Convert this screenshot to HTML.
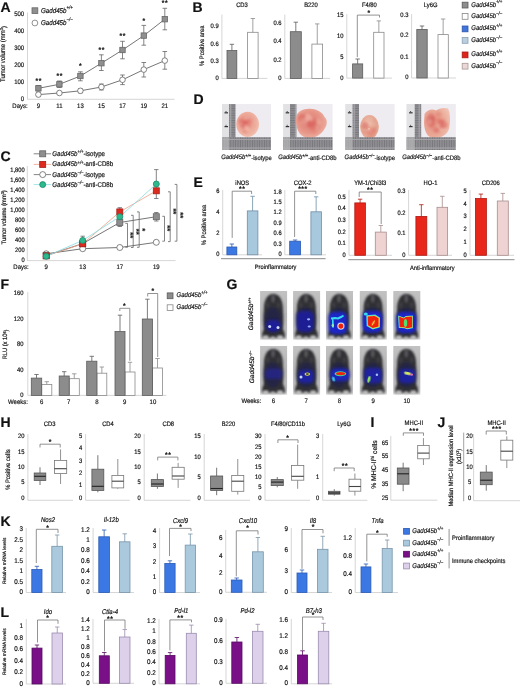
<!DOCTYPE html><html><head><meta charset="utf-8"><style>html,body{margin:0;padding:0;background:#fff;}svg{display:block;filter:blur(0.3px);}text{font-family:'Liberation Sans', Arial, sans-serif;fill:#111;stroke:#111;stroke-width:0.18px;text-rendering:geometricPrecision;}</style></head><body>
<svg width="520" height="687" viewBox="0 0 520 687">
<rect width="520" height="687" fill="#fff"/>
<text x="0.50" y="6.50" font-size="14" text-anchor="start" dominant-baseline="central" font-weight="bold" fill="#000" stroke="#000" stroke-width="0.55">A</text>
<line x1="27.50" y1="12.50" x2="27.50" y2="99.30" stroke="#c4c4c4" stroke-width="0.7"/>
<line x1="27.50" y1="99.30" x2="174.60" y2="99.30" stroke="#c4c4c4" stroke-width="0.7"/>
<text x="24.20" y="99.30" font-size="6.6" text-anchor="end" dominant-baseline="central" transform="translate(24.20 99.30) scale(0.91 1) translate(-24.20 -99.30)">0</text>
<text x="24.20" y="82.40" font-size="6.6" text-anchor="end" dominant-baseline="central" transform="translate(24.20 82.40) scale(0.91 1) translate(-24.20 -82.40)">100</text>
<text x="24.20" y="65.50" font-size="6.6" text-anchor="end" dominant-baseline="central" transform="translate(24.20 65.50) scale(0.91 1) translate(-24.20 -65.50)">200</text>
<text x="24.20" y="48.60" font-size="6.6" text-anchor="end" dominant-baseline="central" transform="translate(24.20 48.60) scale(0.91 1) translate(-24.20 -48.60)">300</text>
<text x="24.20" y="31.70" font-size="6.6" text-anchor="end" dominant-baseline="central" transform="translate(24.20 31.70) scale(0.91 1) translate(-24.20 -31.70)">400</text>
<text x="24.20" y="14.80" font-size="6.6" text-anchor="end" dominant-baseline="central" transform="translate(24.20 14.80) scale(0.91 1) translate(-24.20 -14.80)">500</text>
<text x="3.60" y="54.00" font-size="6.6" text-anchor="middle" dominant-baseline="central" transform="rotate(-90 3.60 54.00) translate(3.60 54.00) scale(0.91 1) translate(-3.60 -54.00)">Tumor volume (mm<tspan font-size="4.2" dy="-2.2">3</tspan><tspan dy="2.2">)</tspan></text>
<text x="12.30" y="106.40" font-size="6.6" text-anchor="start" dominant-baseline="central" transform="translate(12.30 106.40) scale(0.91 1) translate(-12.30 -106.40)">Days:</text>
<text x="38.40" y="106.40" font-size="6.6" text-anchor="middle" dominant-baseline="central" transform="translate(38.40 106.40) scale(0.91 1) translate(-38.40 -106.40)">9</text>
<text x="59.40" y="106.40" font-size="6.6" text-anchor="middle" dominant-baseline="central" transform="translate(59.40 106.40) scale(0.91 1) translate(-59.40 -106.40)">11</text>
<text x="80.40" y="106.40" font-size="6.6" text-anchor="middle" dominant-baseline="central" transform="translate(80.40 106.40) scale(0.91 1) translate(-80.40 -106.40)">13</text>
<text x="101.40" y="106.40" font-size="6.6" text-anchor="middle" dominant-baseline="central" transform="translate(101.40 106.40) scale(0.91 1) translate(-101.40 -106.40)">15</text>
<text x="122.50" y="106.40" font-size="6.6" text-anchor="middle" dominant-baseline="central" transform="translate(122.50 106.40) scale(0.91 1) translate(-122.50 -106.40)">17</text>
<text x="143.80" y="106.40" font-size="6.6" text-anchor="middle" dominant-baseline="central" transform="translate(143.80 106.40) scale(0.91 1) translate(-143.80 -106.40)">19</text>
<text x="164.80" y="106.40" font-size="6.6" text-anchor="middle" dominant-baseline="central" transform="translate(164.80 106.40) scale(0.91 1) translate(-164.80 -106.40)">21</text>
<path d="M38.40,88.30 L59.40,84.30 L80.40,76.00 L101.40,63.20 L122.50,50.00 L143.80,35.60 L164.80,19.20" stroke="#666" stroke-width="0.9" fill="none"/>
<path d="M38.40,94.60 L59.40,93.00 L80.40,90.80 L101.40,87.00 L122.50,79.80 L143.80,69.60 L164.80,60.60" stroke="#666" stroke-width="0.9" fill="none"/>
<line x1="38.40" y1="93.00" x2="38.40" y2="96.00" stroke="#666" stroke-width="0.8"/>
<line x1="36.10" y1="93.00" x2="40.70" y2="93.00" stroke="#666" stroke-width="0.8"/>
<line x1="36.10" y1="96.00" x2="40.70" y2="96.00" stroke="#666" stroke-width="0.8"/>
<line x1="59.40" y1="91.50" x2="59.40" y2="94.50" stroke="#666" stroke-width="0.8"/>
<line x1="57.10" y1="91.50" x2="61.70" y2="91.50" stroke="#666" stroke-width="0.8"/>
<line x1="57.10" y1="94.50" x2="61.70" y2="94.50" stroke="#666" stroke-width="0.8"/>
<line x1="80.40" y1="88.80" x2="80.40" y2="92.80" stroke="#666" stroke-width="0.8"/>
<line x1="78.10" y1="88.80" x2="82.70" y2="88.80" stroke="#666" stroke-width="0.8"/>
<line x1="78.10" y1="92.80" x2="82.70" y2="92.80" stroke="#666" stroke-width="0.8"/>
<line x1="101.40" y1="84.00" x2="101.40" y2="90.00" stroke="#666" stroke-width="0.8"/>
<line x1="99.10" y1="84.00" x2="103.70" y2="84.00" stroke="#666" stroke-width="0.8"/>
<line x1="99.10" y1="90.00" x2="103.70" y2="90.00" stroke="#666" stroke-width="0.8"/>
<line x1="122.50" y1="75.00" x2="122.50" y2="84.60" stroke="#666" stroke-width="0.8"/>
<line x1="120.20" y1="75.00" x2="124.80" y2="75.00" stroke="#666" stroke-width="0.8"/>
<line x1="120.20" y1="84.60" x2="124.80" y2="84.60" stroke="#666" stroke-width="0.8"/>
<line x1="143.80" y1="62.50" x2="143.80" y2="77.00" stroke="#666" stroke-width="0.8"/>
<line x1="141.50" y1="62.50" x2="146.10" y2="62.50" stroke="#666" stroke-width="0.8"/>
<line x1="141.50" y1="77.00" x2="146.10" y2="77.00" stroke="#666" stroke-width="0.8"/>
<line x1="164.80" y1="51.50" x2="164.80" y2="69.20" stroke="#666" stroke-width="0.8"/>
<line x1="162.50" y1="51.50" x2="167.10" y2="51.50" stroke="#666" stroke-width="0.8"/>
<line x1="162.50" y1="69.20" x2="167.10" y2="69.20" stroke="#666" stroke-width="0.8"/>
<line x1="38.40" y1="85.50" x2="38.40" y2="91.00" stroke="#666" stroke-width="0.8"/>
<line x1="36.10" y1="85.50" x2="40.70" y2="85.50" stroke="#666" stroke-width="0.8"/>
<line x1="36.10" y1="91.00" x2="40.70" y2="91.00" stroke="#666" stroke-width="0.8"/>
<line x1="59.40" y1="81.00" x2="59.40" y2="87.50" stroke="#666" stroke-width="0.8"/>
<line x1="57.10" y1="81.00" x2="61.70" y2="81.00" stroke="#666" stroke-width="0.8"/>
<line x1="57.10" y1="87.50" x2="61.70" y2="87.50" stroke="#666" stroke-width="0.8"/>
<line x1="80.40" y1="71.80" x2="80.40" y2="80.80" stroke="#666" stroke-width="0.8"/>
<line x1="78.10" y1="71.80" x2="82.70" y2="71.80" stroke="#666" stroke-width="0.8"/>
<line x1="78.10" y1="80.80" x2="82.70" y2="80.80" stroke="#666" stroke-width="0.8"/>
<line x1="101.40" y1="54.80" x2="101.40" y2="70.50" stroke="#666" stroke-width="0.8"/>
<line x1="99.10" y1="54.80" x2="103.70" y2="54.80" stroke="#666" stroke-width="0.8"/>
<line x1="99.10" y1="70.50" x2="103.70" y2="70.50" stroke="#666" stroke-width="0.8"/>
<line x1="122.50" y1="41.30" x2="122.50" y2="58.80" stroke="#666" stroke-width="0.8"/>
<line x1="120.20" y1="41.30" x2="124.80" y2="41.30" stroke="#666" stroke-width="0.8"/>
<line x1="120.20" y1="58.80" x2="124.80" y2="58.80" stroke="#666" stroke-width="0.8"/>
<line x1="143.80" y1="25.40" x2="143.80" y2="45.20" stroke="#666" stroke-width="0.8"/>
<line x1="141.50" y1="25.40" x2="146.10" y2="25.40" stroke="#666" stroke-width="0.8"/>
<line x1="141.50" y1="45.20" x2="146.10" y2="45.20" stroke="#666" stroke-width="0.8"/>
<line x1="164.80" y1="8.30" x2="164.80" y2="29.80" stroke="#666" stroke-width="0.8"/>
<line x1="162.50" y1="8.30" x2="167.10" y2="8.30" stroke="#666" stroke-width="0.8"/>
<line x1="162.50" y1="29.80" x2="167.10" y2="29.80" stroke="#666" stroke-width="0.8"/>
<circle cx="38.40" cy="94.60" r="2.8" fill="#fff" stroke="#666" stroke-width="0.8"/>
<circle cx="59.40" cy="93.00" r="2.8" fill="#fff" stroke="#666" stroke-width="0.8"/>
<circle cx="80.40" cy="90.80" r="2.8" fill="#fff" stroke="#666" stroke-width="0.8"/>
<circle cx="101.40" cy="87.00" r="2.8" fill="#fff" stroke="#666" stroke-width="0.8"/>
<circle cx="122.50" cy="79.80" r="2.8" fill="#fff" stroke="#666" stroke-width="0.8"/>
<circle cx="143.80" cy="69.60" r="2.8" fill="#fff" stroke="#666" stroke-width="0.8"/>
<circle cx="164.80" cy="60.60" r="2.8" fill="#fff" stroke="#666" stroke-width="0.8"/>
<rect x="35.70" y="85.60" width="5.40" height="5.40" fill="#8f8f8f" stroke="#666" stroke-width="0.8"/>
<rect x="56.70" y="81.60" width="5.40" height="5.40" fill="#8f8f8f" stroke="#666" stroke-width="0.8"/>
<rect x="77.70" y="73.30" width="5.40" height="5.40" fill="#8f8f8f" stroke="#666" stroke-width="0.8"/>
<rect x="98.70" y="60.50" width="5.40" height="5.40" fill="#8f8f8f" stroke="#666" stroke-width="0.8"/>
<rect x="119.80" y="47.30" width="5.40" height="5.40" fill="#8f8f8f" stroke="#666" stroke-width="0.8"/>
<rect x="141.10" y="32.90" width="5.40" height="5.40" fill="#8f8f8f" stroke="#666" stroke-width="0.8"/>
<rect x="162.10" y="16.50" width="5.40" height="5.40" fill="#8f8f8f" stroke="#666" stroke-width="0.8"/>
<text x="38.70" y="81.20" font-size="6.8" text-anchor="middle" dominant-baseline="central" font-weight="bold" letter-spacing="0.6">**</text>
<text x="59.70" y="76.20" font-size="6.8" text-anchor="middle" dominant-baseline="central" font-weight="bold" letter-spacing="0.6">**</text>
<text x="80.70" y="66.20" font-size="6.8" text-anchor="middle" dominant-baseline="central" font-weight="bold" letter-spacing="0.6">*</text>
<text x="101.70" y="50.00" font-size="6.8" text-anchor="middle" dominant-baseline="central" font-weight="bold" letter-spacing="0.6">**</text>
<text x="122.80" y="36.20" font-size="6.8" text-anchor="middle" dominant-baseline="central" font-weight="bold" letter-spacing="0.6">**</text>
<text x="144.10" y="21.00" font-size="6.8" text-anchor="middle" dominant-baseline="central" font-weight="bold" letter-spacing="0.6">*</text>
<text x="165.10" y="3.80" font-size="6.8" text-anchor="middle" dominant-baseline="central" font-weight="bold" letter-spacing="0.6">**</text>
<rect x="32.00" y="7.80" width="5.80" height="5.70" fill="#8f8f8f" stroke="#666" stroke-width="0.8"/>
<circle cx="34.9" cy="23" r="2.9" fill="#fff" stroke="#777" stroke-width="0.8"/>
<text x="41.00" y="10.60" font-size="7.14" font-style="italic" dominant-baseline="central" text-anchor="start" transform="translate(41.00 10.60) scale(0.87 1) translate(-41.00 -10.60)">Gadd45b<tspan font-size="5.14" dy="-2.86">+/+</tspan></text>
<text x="41.00" y="23.00" font-size="7.14" font-style="italic" dominant-baseline="central" text-anchor="start" transform="translate(41.00 23.00) scale(0.87 1) translate(-41.00 -23.00)">Gadd45b<tspan font-size="5.14" dy="-2.86">&#8722;/&#8722;</tspan></text>
<text x="192.50" y="7.00" font-size="14" text-anchor="start" dominant-baseline="central" font-weight="bold" fill="#000" stroke="#000" stroke-width="0.55">B</text>
<text x="202.20" y="45.80" font-size="6.4" text-anchor="middle" dominant-baseline="central" transform="rotate(-90 202.20 45.80) translate(202.20 45.80) scale(0.91 1) translate(-202.20 -45.80)">% Positive area</text>
<text x="242.00" y="5.80" font-size="6.4" text-anchor="middle" dominant-baseline="central" transform="translate(242.00 5.80) scale(0.91 1) translate(-242.00 -5.80)">CD3</text>
<line x1="221.90" y1="14.60" x2="221.90" y2="78.40" stroke="#c4c4c4" stroke-width="0.7"/>
<line x1="221.90" y1="78.40" x2="267.30" y2="78.40" stroke="#c4c4c4" stroke-width="0.7"/>
<text x="218.70" y="26.90" font-size="6.4" text-anchor="end" dominant-baseline="central" transform="translate(218.70 26.90) scale(0.91 1) translate(-218.70 -26.90)">0.9</text>
<text x="218.70" y="44.20" font-size="6.4" text-anchor="end" dominant-baseline="central" transform="translate(218.70 44.20) scale(0.91 1) translate(-218.70 -44.20)">0.6</text>
<text x="218.70" y="61.20" font-size="6.4" text-anchor="end" dominant-baseline="central" transform="translate(218.70 61.20) scale(0.91 1) translate(-218.70 -61.20)">0.3</text>
<text x="218.70" y="78.20" font-size="6.4" text-anchor="end" dominant-baseline="central" transform="translate(218.70 78.20) scale(0.91 1) translate(-218.70 -78.20)">0</text>
<rect x="227.00" y="50.50" width="9.80" height="27.90" fill="#8c8c8c" stroke="#5c5c5c" stroke-width="0.8"/>
<line x1="231.90" y1="50.50" x2="231.90" y2="44.30" stroke="#5c5c5c" stroke-width="0.8"/>
<line x1="229.70" y1="44.30" x2="234.10" y2="44.30" stroke="#5c5c5c" stroke-width="0.8"/>
<rect x="247.60" y="32.30" width="10.50" height="46.10" fill="#fff" stroke="#8a8a8a" stroke-width="0.8"/>
<line x1="252.85" y1="32.30" x2="252.85" y2="18.50" stroke="#8a8a8a" stroke-width="0.8"/>
<line x1="250.65" y1="18.50" x2="255.05" y2="18.50" stroke="#8a8a8a" stroke-width="0.8"/>
<text x="311.00" y="5.80" font-size="6.4" text-anchor="middle" dominant-baseline="central" transform="translate(311.00 5.80) scale(0.91 1) translate(-311.00 -5.80)">B220</text>
<line x1="284.80" y1="14.60" x2="284.80" y2="78.40" stroke="#c4c4c4" stroke-width="0.7"/>
<line x1="284.80" y1="78.40" x2="330.00" y2="78.40" stroke="#c4c4c4" stroke-width="0.7"/>
<text x="281.60" y="23.90" font-size="6.4" text-anchor="end" dominant-baseline="central" transform="translate(281.60 23.90) scale(0.91 1) translate(-281.60 -23.90)">0.6</text>
<text x="281.60" y="41.80" font-size="6.4" text-anchor="end" dominant-baseline="central" transform="translate(281.60 41.80) scale(0.91 1) translate(-281.60 -41.80)">0.4</text>
<text x="281.60" y="60.50" font-size="6.4" text-anchor="end" dominant-baseline="central" transform="translate(281.60 60.50) scale(0.91 1) translate(-281.60 -60.50)">0.2</text>
<text x="281.60" y="78.20" font-size="6.4" text-anchor="end" dominant-baseline="central" transform="translate(281.60 78.20) scale(0.91 1) translate(-281.60 -78.20)">0</text>
<rect x="290.30" y="31.70" width="11.00" height="46.70" fill="#8c8c8c" stroke="#5c5c5c" stroke-width="0.8"/>
<line x1="295.80" y1="31.70" x2="295.80" y2="22.20" stroke="#5c5c5c" stroke-width="0.8"/>
<line x1="293.60" y1="22.20" x2="298.00" y2="22.20" stroke="#5c5c5c" stroke-width="0.8"/>
<rect x="311.90" y="44.10" width="10.70" height="34.30" fill="#fff" stroke="#8a8a8a" stroke-width="0.8"/>
<line x1="317.25" y1="44.10" x2="317.25" y2="23.90" stroke="#8a8a8a" stroke-width="0.8"/>
<line x1="315.05" y1="23.90" x2="319.45" y2="23.90" stroke="#8a8a8a" stroke-width="0.8"/>
<text x="369.40" y="5.70" font-size="6.4" text-anchor="middle" dominant-baseline="central" transform="translate(369.40 5.70) scale(0.91 1) translate(-369.40 -5.70)">F4/80</text>
<line x1="346.80" y1="14.10" x2="346.80" y2="78.10" stroke="#c4c4c4" stroke-width="0.7"/>
<line x1="346.80" y1="78.10" x2="392.00" y2="78.10" stroke="#c4c4c4" stroke-width="0.7"/>
<text x="343.60" y="15.50" font-size="6.4" text-anchor="end" dominant-baseline="central" transform="translate(343.60 15.50) scale(0.91 1) translate(-343.60 -15.50)">15</text>
<text x="343.60" y="36.30" font-size="6.4" text-anchor="end" dominant-baseline="central" transform="translate(343.60 36.30) scale(0.91 1) translate(-343.60 -36.30)">10</text>
<text x="343.60" y="57.60" font-size="6.4" text-anchor="end" dominant-baseline="central" transform="translate(343.60 57.60) scale(0.91 1) translate(-343.60 -57.60)">5</text>
<text x="343.60" y="78.00" font-size="6.4" text-anchor="end" dominant-baseline="central" transform="translate(343.60 78.00) scale(0.91 1) translate(-343.60 -78.00)">0</text>
<rect x="352.60" y="63.90" width="10.10" height="14.20" fill="#8c8c8c" stroke="#5c5c5c" stroke-width="0.8"/>
<line x1="357.65" y1="63.90" x2="357.65" y2="59.00" stroke="#5c5c5c" stroke-width="0.8"/>
<line x1="355.45" y1="59.00" x2="359.85" y2="59.00" stroke="#5c5c5c" stroke-width="0.8"/>
<rect x="373.70" y="32.30" width="10.30" height="45.80" fill="#fff" stroke="#8a8a8a" stroke-width="0.8"/>
<line x1="378.85" y1="32.30" x2="378.85" y2="20.90" stroke="#8a8a8a" stroke-width="0.8"/>
<line x1="376.65" y1="20.90" x2="381.05" y2="20.90" stroke="#8a8a8a" stroke-width="0.8"/>
<path d="M357.30,57.20 V15.10 H379.50 V17.50" stroke="#777" stroke-width="0.8" fill="none"/>
<text x="369.00" y="13.50" font-size="6.8" text-anchor="middle" dominant-baseline="central" font-weight="bold" letter-spacing="0.6">*</text>
<text x="430.70" y="5.50" font-size="6.4" text-anchor="middle" dominant-baseline="central" transform="translate(430.70 5.50) scale(0.91 1) translate(-430.70 -5.50)">Ly6G</text>
<line x1="411.60" y1="14.10" x2="411.60" y2="78.00" stroke="#c4c4c4" stroke-width="0.7"/>
<line x1="411.60" y1="78.00" x2="456.00" y2="78.00" stroke="#c4c4c4" stroke-width="0.7"/>
<text x="408.40" y="15.60" font-size="6.4" text-anchor="end" dominant-baseline="central" transform="translate(408.40 15.60) scale(0.91 1) translate(-408.40 -15.60)">0.3</text>
<text x="408.40" y="35.60" font-size="6.4" text-anchor="end" dominant-baseline="central" transform="translate(408.40 35.60) scale(0.91 1) translate(-408.40 -35.60)">0.2</text>
<text x="408.40" y="57.00" font-size="6.4" text-anchor="end" dominant-baseline="central" transform="translate(408.40 57.00) scale(0.91 1) translate(-408.40 -57.00)">0.1</text>
<text x="408.40" y="77.90" font-size="6.4" text-anchor="end" dominant-baseline="central" transform="translate(408.40 77.90) scale(0.91 1) translate(-408.40 -77.90)">0</text>
<rect x="416.80" y="29.40" width="10.40" height="48.60" fill="#8c8c8c" stroke="#5c5c5c" stroke-width="0.8"/>
<line x1="422.00" y1="29.40" x2="422.00" y2="26.00" stroke="#5c5c5c" stroke-width="0.8"/>
<line x1="419.80" y1="26.00" x2="424.20" y2="26.00" stroke="#5c5c5c" stroke-width="0.8"/>
<rect x="438.00" y="34.60" width="10.30" height="43.40" fill="#fff" stroke="#8a8a8a" stroke-width="0.8"/>
<line x1="443.15" y1="34.60" x2="443.15" y2="19.00" stroke="#8a8a8a" stroke-width="0.8"/>
<line x1="440.95" y1="19.00" x2="445.35" y2="19.00" stroke="#8a8a8a" stroke-width="0.8"/>
<rect x="462.20" y="2.20" width="5.80" height="5.80" fill="#8e8e8e" stroke="#5a5a5a" stroke-width="0.8"/>
<text x="471.30" y="5.10" font-size="6.93" font-style="italic" dominant-baseline="central" text-anchor="start" transform="translate(471.30 5.10) scale(0.87 1) translate(-471.30 -5.10)">Gadd45b<tspan font-size="4.99" dy="-2.77">+/+</tspan></text>
<rect x="462.20" y="13.50" width="5.80" height="5.80" fill="#fff" stroke="#888" stroke-width="0.8"/>
<text x="471.30" y="16.40" font-size="6.93" font-style="italic" dominant-baseline="central" text-anchor="start" transform="translate(471.30 16.40) scale(0.87 1) translate(-471.30 -16.40)">Gadd45b<tspan font-size="4.99" dy="-2.77">&#8722;/&#8722;</tspan></text>
<rect x="462.20" y="26.00" width="5.80" height="5.80" fill="#3f74dd" stroke="#2d55a8" stroke-width="0.8"/>
<text x="471.30" y="28.90" font-size="6.93" font-style="italic" dominant-baseline="central" text-anchor="start" transform="translate(471.30 28.90) scale(0.87 1) translate(-471.30 -28.90)">Gadd45b<tspan font-size="4.99" dy="-2.77">+/+</tspan></text>
<rect x="462.20" y="37.50" width="5.80" height="5.80" fill="#b9cfe0" stroke="#8aa0b4" stroke-width="0.8"/>
<text x="471.30" y="40.40" font-size="6.93" font-style="italic" dominant-baseline="central" text-anchor="start" transform="translate(471.30 40.40) scale(0.87 1) translate(-471.30 -40.40)">Gadd45b<tspan font-size="4.99" dy="-2.77">&#8722;/&#8722;</tspan></text>
<rect x="462.20" y="52.00" width="5.80" height="5.80" fill="#e0231b" stroke="#a81a14" stroke-width="0.8"/>
<text x="471.30" y="54.90" font-size="6.93" font-style="italic" dominant-baseline="central" text-anchor="start" transform="translate(471.30 54.90) scale(0.87 1) translate(-471.30 -54.90)">Gadd45b<tspan font-size="4.99" dy="-2.77">+/+</tspan></text>
<rect x="462.20" y="63.30" width="5.80" height="5.80" fill="#ecd6d6" stroke="#a89898" stroke-width="0.8"/>
<text x="471.30" y="66.20" font-size="6.93" font-style="italic" dominant-baseline="central" text-anchor="start" transform="translate(471.30 66.20) scale(0.87 1) translate(-471.30 -66.20)">Gadd45b<tspan font-size="4.99" dy="-2.77">&#8722;/&#8722;</tspan></text>
<text x="0.50" y="155.50" font-size="14" text-anchor="start" dominant-baseline="central" font-weight="bold" fill="#000" stroke="#000" stroke-width="0.55">C</text>
<line x1="27.30" y1="166.00" x2="27.30" y2="260.60" stroke="#c4c4c4" stroke-width="0.7"/>
<line x1="27.30" y1="260.60" x2="175.60" y2="260.60" stroke="#c4c4c4" stroke-width="0.7"/>
<text x="24.60" y="260.60" font-size="6.3" text-anchor="end" dominant-baseline="central" transform="translate(24.60 260.60) scale(0.91 1) translate(-24.60 -260.60)">0</text>
<text x="24.60" y="250.56" font-size="6.3" text-anchor="end" dominant-baseline="central" transform="translate(24.60 250.56) scale(0.91 1) translate(-24.60 -250.56)">200</text>
<text x="24.60" y="240.52" font-size="6.3" text-anchor="end" dominant-baseline="central" transform="translate(24.60 240.52) scale(0.91 1) translate(-24.60 -240.52)">400</text>
<text x="24.60" y="230.48" font-size="6.3" text-anchor="end" dominant-baseline="central" transform="translate(24.60 230.48) scale(0.91 1) translate(-24.60 -230.48)">600</text>
<text x="24.60" y="220.44" font-size="6.3" text-anchor="end" dominant-baseline="central" transform="translate(24.60 220.44) scale(0.91 1) translate(-24.60 -220.44)">800</text>
<text x="24.60" y="210.40" font-size="6.3" text-anchor="end" dominant-baseline="central" transform="translate(24.60 210.40) scale(0.91 1) translate(-24.60 -210.40)">1,000</text>
<text x="24.60" y="200.36" font-size="6.3" text-anchor="end" dominant-baseline="central" transform="translate(24.60 200.36) scale(0.91 1) translate(-24.60 -200.36)">1,200</text>
<text x="24.60" y="190.32" font-size="6.3" text-anchor="end" dominant-baseline="central" transform="translate(24.60 190.32) scale(0.91 1) translate(-24.60 -190.32)">1,400</text>
<text x="24.60" y="180.28" font-size="6.3" text-anchor="end" dominant-baseline="central" transform="translate(24.60 180.28) scale(0.91 1) translate(-24.60 -180.28)">1,600</text>
<text x="24.60" y="170.24" font-size="6.3" text-anchor="end" dominant-baseline="central" transform="translate(24.60 170.24) scale(0.91 1) translate(-24.60 -170.24)">1,800</text>
<text x="4.10" y="217.30" font-size="6.4" text-anchor="middle" dominant-baseline="central" transform="rotate(-90 4.10 217.30) translate(4.10 217.30) scale(0.91 1) translate(-4.10 -217.30)">Tumor volume (mm<tspan font-size="4.1" dy="-2.1">3</tspan><tspan dy="2.1">)</tspan></text>
<text x="13.30" y="267.60" font-size="6.6" text-anchor="start" dominant-baseline="central" transform="translate(13.30 267.60) scale(0.91 1) translate(-13.30 -267.60)">Days:</text>
<text x="46.20" y="267.60" font-size="6.6" text-anchor="middle" dominant-baseline="central" transform="translate(46.20 267.60) scale(0.91 1) translate(-46.20 -267.60)">9</text>
<text x="82.70" y="267.60" font-size="6.6" text-anchor="middle" dominant-baseline="central" transform="translate(82.70 267.60) scale(0.91 1) translate(-82.70 -267.60)">13</text>
<text x="119.80" y="267.60" font-size="6.6" text-anchor="middle" dominant-baseline="central" transform="translate(119.80 267.60) scale(0.91 1) translate(-119.80 -267.60)">17</text>
<text x="156.30" y="267.60" font-size="6.6" text-anchor="middle" dominant-baseline="central" transform="translate(156.30 267.60) scale(0.91 1) translate(-156.30 -267.60)">19</text>
<path d="M46.2,253.8 L82.7,248.7 L119.8,247.5 L156.3,242.3" stroke="#666" stroke-width="0.9" fill="none"/>
<path d="M46.2,255.6 L82.7,243.6 L119.8,222.5 L156.3,216.7" stroke="#666" stroke-width="0.9" fill="none"/>
<path d="M46.2,255.9 L82.7,243.8 L119.8,211.9 L156.3,190.8" stroke="#f0a088" stroke-width="0.8" fill="none"/>
<path d="M46.2,256.3 L82.7,240.4 L119.8,216.7 L156.3,184.0" stroke="#88dde0" stroke-width="0.8" fill="none"/>
<line x1="156.30" y1="169.60" x2="156.30" y2="198.50" stroke="#666" stroke-width="0.8"/>
<line x1="154.10" y1="169.60" x2="158.50" y2="169.60" stroke="#666" stroke-width="0.8"/>
<line x1="154.10" y1="198.50" x2="158.50" y2="198.50" stroke="#666" stroke-width="0.8"/>
<line x1="119.80" y1="207.70" x2="119.80" y2="226.50" stroke="#666" stroke-width="0.8"/>
<line x1="117.60" y1="207.70" x2="122.00" y2="207.70" stroke="#666" stroke-width="0.8"/>
<line x1="117.60" y1="226.50" x2="122.00" y2="226.50" stroke="#666" stroke-width="0.8"/>
<line x1="82.70" y1="236.20" x2="82.70" y2="246.50" stroke="#666" stroke-width="0.8"/>
<line x1="80.50" y1="236.20" x2="84.90" y2="236.20" stroke="#666" stroke-width="0.8"/>
<line x1="80.50" y1="246.50" x2="84.90" y2="246.50" stroke="#666" stroke-width="0.8"/>
<line x1="46.20" y1="251.50" x2="46.20" y2="258.50" stroke="#666" stroke-width="0.8"/>
<line x1="44.00" y1="251.50" x2="48.40" y2="251.50" stroke="#666" stroke-width="0.8"/>
<line x1="44.00" y1="258.50" x2="48.40" y2="258.50" stroke="#666" stroke-width="0.8"/>
<line x1="156.30" y1="212.50" x2="156.30" y2="221.00" stroke="#666" stroke-width="0.8"/>
<line x1="154.10" y1="212.50" x2="158.50" y2="212.50" stroke="#666" stroke-width="0.8"/>
<line x1="154.10" y1="221.00" x2="158.50" y2="221.00" stroke="#666" stroke-width="0.8"/>
<circle cx="46.2" cy="253.8" r="3" fill="#fff" stroke="#666" stroke-width="0.8"/>
<circle cx="82.7" cy="248.7" r="3" fill="#fff" stroke="#666" stroke-width="0.8"/>
<circle cx="119.8" cy="247.5" r="3" fill="#fff" stroke="#666" stroke-width="0.8"/>
<circle cx="156.3" cy="242.3" r="3" fill="#fff" stroke="#666" stroke-width="0.8"/>
<rect x="43.20" y="252.60" width="6.00" height="6.00" fill="#8e8e8e" stroke="#666" stroke-width="0.8"/>
<rect x="79.70" y="240.60" width="6.00" height="6.00" fill="#8e8e8e" stroke="#666" stroke-width="0.8"/>
<rect x="116.80" y="219.50" width="6.00" height="6.00" fill="#8e8e8e" stroke="#666" stroke-width="0.8"/>
<rect x="153.30" y="213.70" width="6.00" height="6.00" fill="#8e8e8e" stroke="#666" stroke-width="0.8"/>
<rect x="43.20" y="252.90" width="6.00" height="6.00" fill="#dd2a1e" stroke="#a52018" stroke-width="0.8"/>
<rect x="79.70" y="240.80" width="6.00" height="6.00" fill="#dd2a1e" stroke="#a52018" stroke-width="0.8"/>
<rect x="116.80" y="208.90" width="6.00" height="6.00" fill="#dd2a1e" stroke="#a52018" stroke-width="0.8"/>
<rect x="153.30" y="187.80" width="6.00" height="6.00" fill="#dd2a1e" stroke="#a52018" stroke-width="0.8"/>
<circle cx="46.2" cy="256.3" r="3" fill="#2db88e" stroke="#1c8a68" stroke-width="0.8"/>
<circle cx="82.7" cy="240.4" r="3" fill="#2db88e" stroke="#1c8a68" stroke-width="0.8"/>
<circle cx="119.8" cy="216.7" r="3" fill="#2db88e" stroke="#1c8a68" stroke-width="0.8"/>
<circle cx="156.3" cy="184.0" r="3" fill="#2db88e" stroke="#1c8a68" stroke-width="0.8"/>
<path d="M125.30,223.30 H127.50 V247.30 H125.30" stroke="#666" stroke-width="0.8" fill="none"/>
<text x="130.40" y="235.20" font-size="7.5" text-anchor="middle" dominant-baseline="central" font-weight="bold" transform="rotate(90 130.40 235.20)">**</text>
<path d="M131.00,215.30 H133.20 V247.50 H131.00" stroke="#666" stroke-width="0.8" fill="none"/>
<text x="136.30" y="231.70" font-size="7.5" text-anchor="middle" dominant-baseline="central" font-weight="bold" transform="rotate(90 136.30 231.70)">**</text>
<path d="M137.00,211.90 H139.20 V247.30 H137.00" stroke="#666" stroke-width="0.8" fill="none"/>
<text x="142.60" y="229.80" font-size="7.5" text-anchor="middle" dominant-baseline="central" font-weight="bold" transform="rotate(90 142.60 229.80)">*</text>
<path d="M162.30,216.30 H164.50 V241.20 H162.30" stroke="#666" stroke-width="0.8" fill="none"/>
<text x="167.80" y="228.20" font-size="7.5" text-anchor="middle" dominant-baseline="central" font-weight="bold" transform="rotate(90 167.80 228.20)">**</text>
<path d="M168.00,191.80 H170.20 V241.60 H168.00" stroke="#666" stroke-width="0.8" fill="none"/>
<text x="173.80" y="211.30" font-size="7.5" text-anchor="middle" dominant-baseline="central" font-weight="bold" transform="rotate(90 173.80 211.30)">**</text>
<path d="M174.70,184.40 H176.90 V241.20 H174.70" stroke="#666" stroke-width="0.8" fill="none"/>
<text x="180.50" y="215.20" font-size="7.5" text-anchor="middle" dominant-baseline="central" font-weight="bold" transform="rotate(90 180.50 215.20)">**</text>
<line x1="33.70" y1="153.80" x2="51.00" y2="153.80" stroke="#666" stroke-width="0.8"/>
<rect x="39.70" y="150.80" width="6.00" height="6.00" fill="#8e8e8e" stroke="#666" stroke-width="0.8"/>
<text x="52.3" y="153.8" font-size="6.8" dominant-baseline="central" transform="translate(52.3 153.8) scale(0.9 1) translate(-52.3 -153.8)"><tspan font-style="italic">Gadd45b</tspan><tspan font-size="4.7" dy="-2.6" font-style="italic">+/+</tspan><tspan dy="2.6">-isotype</tspan></text>
<line x1="33.70" y1="164.40" x2="51.00" y2="164.40" stroke="#f0a088" stroke-width="0.8"/>
<rect x="39.70" y="161.40" width="6.00" height="6.00" fill="#dd2a1e" stroke="#a52018" stroke-width="0.8"/>
<text x="52.3" y="164.4" font-size="6.8" dominant-baseline="central" transform="translate(52.3 164.4) scale(0.9 1) translate(-52.3 -164.4)"><tspan font-style="italic">Gadd45b</tspan><tspan font-size="4.7" dy="-2.6" font-style="italic">+/+</tspan><tspan dy="2.6">-anti-CD8b</tspan></text>
<line x1="33.70" y1="174.60" x2="51.00" y2="174.60" stroke="#666" stroke-width="0.8"/>
<circle cx="42.7" cy="174.6" r="3" fill="#fff" stroke="#666" stroke-width="0.8"/>
<text x="52.3" y="174.6" font-size="6.8" dominant-baseline="central" transform="translate(52.3 174.6) scale(0.9 1) translate(-52.3 -174.6)"><tspan font-style="italic">Gadd45b</tspan><tspan font-size="4.7" dy="-2.6" font-style="italic">&#8722;/&#8722;</tspan><tspan dy="2.6">-isotype</tspan></text>
<line x1="33.70" y1="184.60" x2="51.00" y2="184.60" stroke="#88dde0" stroke-width="0.8"/>
<circle cx="42.7" cy="184.6" r="3" fill="#2db88e" stroke="#1c8a68" stroke-width="0.8"/>
<text x="52.3" y="184.6" font-size="6.8" dominant-baseline="central" transform="translate(52.3 184.6) scale(0.9 1) translate(-52.3 -184.6)"><tspan font-style="italic">Gadd45b</tspan><tspan font-size="4.7" dy="-2.6" font-style="italic">&#8722;/&#8722;</tspan><tspan dy="2.6">-anti-CD8b</tspan></text>
<text x="193.50" y="99.00" font-size="14" text-anchor="start" dominant-baseline="central" font-weight="bold" fill="#000" stroke="#000" stroke-width="0.55">D</text>
<defs>
<radialGradient id="tum1" cx="50%" cy="45%" r="55%"><stop offset="0" stop-color="#e88a80"/><stop offset="0.55" stop-color="#e8a090"/><stop offset="0.85" stop-color="#eeb8a0"/><stop offset="1" stop-color="#f2c8b8"/></radialGradient>
<radialGradient id="tum2" cx="45%" cy="45%" r="60%"><stop offset="0" stop-color="#e89888"/><stop offset="0.6" stop-color="#eca898"/><stop offset="1" stop-color="#f0c0b0"/></radialGradient>
<radialGradient id="tum3" cx="50%" cy="50%" r="55%"><stop offset="0" stop-color="#e8b098"/><stop offset="0.7" stop-color="#e8a890"/><stop offset="1" stop-color="#eec4b0"/></radialGradient>
<radialGradient id="tum4" cx="45%" cy="45%" r="60%"><stop offset="0" stop-color="#e89c90"/><stop offset="0.6" stop-color="#e8a898"/><stop offset="1" stop-color="#eec0b0"/></radialGradient>
<pattern id="rulv" width="6" height="2.2" patternUnits="userSpaceOnUse"><rect width="6" height="2.2" fill="#8a8a8a"/><rect width="6" height="0.9" fill="#5a5a5a"/></pattern>
<pattern id="rulh" width="2.2" height="6" patternUnits="userSpaceOnUse"><rect width="2.2" height="6" fill="#8a8a8a"/><rect width="0.9" height="6" fill="#5a5a5a"/></pattern>
<linearGradient id="bgph" x1="0" y1="0" x2="1" y2="0"><stop offset="0" stop-color="#e8e4e6"/><stop offset="1" stop-color="#f4f0f2"/></linearGradient>
</defs>
<defs>
<radialGradient id="tg1" cx="45%" cy="45%" r="60%"><stop offset="0" stop-color="#e48a80"/><stop offset="0.6" stop-color="#eca898"/><stop offset="1" stop-color="#f2c4b4"/></radialGradient>
<radialGradient id="tg2" cx="45%" cy="45%" r="60%"><stop offset="0" stop-color="#de7870"/><stop offset="0.6" stop-color="#e69486"/><stop offset="1" stop-color="#eeb4a4"/></radialGradient>
<radialGradient id="tg3" cx="50%" cy="50%" r="60%"><stop offset="0" stop-color="#e09c86"/><stop offset="0.7" stop-color="#e4a48e"/><stop offset="1" stop-color="#ecbca8"/></radialGradient>
<radialGradient id="tg4" cx="35%" cy="50%" r="70%"><stop offset="0" stop-color="#e48e80"/><stop offset="0.6" stop-color="#eaa896"/><stop offset="1" stop-color="#f0c2b2"/></radialGradient>
<pattern id="rv" width="6.5" height="2.4" patternUnits="userSpaceOnUse"><rect width="6.5" height="2.4" fill="#8c8c90"/><rect width="6.5" height="0.7" fill="#747478"/><rect x="2.6" width="1.2" height="2.4" fill="#a8a8ac"/></pattern>
<pattern id="rh" width="2.4" height="13" patternUnits="userSpaceOnUse"><rect width="2.4" height="13" fill="#8e8e92"/><rect width="0.7" height="13" fill="#747478"/><rect y="4.5" width="2.4" height="1.1" fill="#a8a8ac"/><rect y="9" width="2.4" height="1" fill="#a4a4a8"/></pattern>
</defs>
<rect x="222.00" y="104.00" width="49.00" height="46.00" fill="#eeebf1" stroke="none" stroke-width="0.8"/>
<rect x="222.00" y="104.00" width="7.00" height="46.00" fill="#e2e2e4" stroke="none" stroke-width="0.8"/>
<rect x="224.50" y="112.20" width="3.50" height="1.20" fill="#303030" stroke="none" stroke-width="0.8"/>
<rect x="224.50" y="126.00" width="3.50" height="1.20" fill="#303030" stroke="none" stroke-width="0.8"/>
<rect x="225.50" y="111.00" width="1.00" height="1.00" fill="#505050" stroke="none" stroke-width="0.8"/>
<rect x="225.50" y="124.80" width="1.00" height="1.00" fill="#505050" stroke="none" stroke-width="0.8"/>
<rect x="229.00" y="104.00" width="6.50" height="46.00" fill="url(#rv)" stroke="none" stroke-width="0.8"/>
<ellipse cx="247.6" cy="124.3" rx="11.4" ry="12.6" fill="url(#tg1)" filter="url(#bl05)"/><ellipse cx="244" cy="122" rx="5" ry="6" fill="#d85a58" opacity="0.55" filter="url(#bl1)"/>
<ellipse cx="246.3" cy="127.1" rx="2.2" ry="3.0" fill="#f8d0c0" opacity="0.36" filter="url(#bl1)"/><ellipse cx="250.5" cy="122.3" rx="2.2" ry="2.6" fill="#d04848" opacity="0.22" filter="url(#bl1)"/><ellipse cx="248.8" cy="121.7" rx="2.2" ry="3.0" fill="#e06a60" opacity="0.31" filter="url(#bl1)"/><ellipse cx="250.9" cy="125.5" rx="2.4" ry="2.0" fill="#f8d0c0" opacity="0.26" filter="url(#bl1)"/><ellipse cx="245.2" cy="131.2" rx="2.5" ry="2.0" fill="#e06a60" opacity="0.31" filter="url(#bl1)"/><ellipse cx="246.3" cy="118.3" rx="3.1" ry="2.4" fill="#f4c4b0" opacity="0.33" filter="url(#bl1)"/><ellipse cx="243.3" cy="121.5" rx="2.6" ry="2.9" fill="#d85858" opacity="0.34" filter="url(#bl1)"/><ellipse cx="240.8" cy="123.1" rx="2.2" ry="2.8" fill="#f4c4b0" opacity="0.32" filter="url(#bl1)"/><ellipse cx="249.8" cy="128.4" rx="3.7" ry="3.3" fill="#f4c4b0" opacity="0.22" filter="url(#bl1)"/><ellipse cx="241.4" cy="120.9" rx="3.2" ry="3.4" fill="#e06a60" opacity="0.27" filter="url(#bl1)"/><ellipse cx="249.7" cy="125.3" rx="2.2" ry="3.2" fill="#e06a60" opacity="0.33" filter="url(#bl1)"/><ellipse cx="243.2" cy="117.8" rx="4.2" ry="2.5" fill="#f4c4b0" opacity="0.34" filter="url(#bl1)"/><ellipse cx="251.7" cy="122.5" rx="3.9" ry="2.1" fill="#f4c4b0" opacity="0.22" filter="url(#bl1)"/><ellipse cx="247.7" cy="129.4" rx="3.0" ry="2.4" fill="#f8d0c0" opacity="0.24" filter="url(#bl1)"/>
<rect x="222.00" y="137.20" width="49.00" height="12.80" fill="url(#rh)" stroke="none" stroke-width="0.8"/>
<rect x="222.00" y="137.20" width="7.00" height="12.80" fill="#b4b4b6" stroke="none" stroke-width="0.8" opacity="0.75"/>
<rect x="283.20" y="104.00" width="49.40" height="46.00" fill="#eeebf1" stroke="none" stroke-width="0.8"/>
<rect x="283.20" y="104.00" width="6.80" height="46.00" fill="#e2e2e4" stroke="none" stroke-width="0.8"/>
<rect x="285.70" y="112.20" width="3.50" height="1.20" fill="#303030" stroke="none" stroke-width="0.8"/>
<rect x="285.70" y="126.00" width="3.50" height="1.20" fill="#303030" stroke="none" stroke-width="0.8"/>
<rect x="286.70" y="111.00" width="1.00" height="1.00" fill="#505050" stroke="none" stroke-width="0.8"/>
<rect x="286.70" y="124.80" width="1.00" height="1.00" fill="#505050" stroke="none" stroke-width="0.8"/>
<rect x="290.00" y="104.00" width="6.50" height="46.00" fill="url(#rv)" stroke="none" stroke-width="0.8"/>
<path d="M296,122 C295,112 302,108.5 310,108.8 C318,109 323,113 324.5,117 C327.5,119 327.5,125 325,128 C322,134 316,138.2 309,138.2 C301,138 296.5,131 296,122 Z" fill="url(#tg2)" filter="url(#bl05)"/><ellipse cx="302" cy="118" rx="4" ry="4" fill="#d86058" opacity="0.5" filter="url(#bl1)"/>
<ellipse cx="314.5" cy="128.2" rx="2.9" ry="3.6" fill="#fbe0d4" opacity="0.28" filter="url(#bl1)"/><ellipse cx="314.0" cy="122.5" rx="2.0" ry="3.5" fill="#d85858" opacity="0.33" filter="url(#bl1)"/><ellipse cx="312.6" cy="128.1" rx="3.4" ry="3.7" fill="#e06a60" opacity="0.28" filter="url(#bl1)"/><ellipse cx="308.0" cy="117.2" rx="3.1" ry="3.5" fill="#fbe0d4" opacity="0.34" filter="url(#bl1)"/><ellipse cx="317.9" cy="121.2" rx="2.3" ry="3.1" fill="#f4c4b0" opacity="0.28" filter="url(#bl1)"/><ellipse cx="312.8" cy="124.4" rx="3.5" ry="2.0" fill="#d85858" opacity="0.23" filter="url(#bl1)"/><ellipse cx="304.2" cy="120.7" rx="4.2" ry="3.0" fill="#fbe0d4" opacity="0.21" filter="url(#bl1)"/><ellipse cx="313.3" cy="127.3" rx="2.3" ry="2.8" fill="#d04848" opacity="0.30" filter="url(#bl1)"/><ellipse cx="317.0" cy="122.6" rx="2.9" ry="2.3" fill="#d85858" opacity="0.23" filter="url(#bl1)"/><ellipse cx="312.3" cy="120.2" rx="3.7" ry="3.6" fill="#e06a60" opacity="0.28" filter="url(#bl1)"/><ellipse cx="310.8" cy="118.4" rx="2.7" ry="2.5" fill="#f8d0c0" opacity="0.34" filter="url(#bl1)"/><ellipse cx="314.6" cy="130.7" rx="2.6" ry="3.4" fill="#e06a60" opacity="0.27" filter="url(#bl1)"/><ellipse cx="319.2" cy="122.7" rx="2.6" ry="2.8" fill="#f4c4b0" opacity="0.34" filter="url(#bl1)"/><ellipse cx="309.5" cy="124.8" rx="2.5" ry="3.0" fill="#d04848" opacity="0.30" filter="url(#bl1)"/>
<rect x="283.20" y="137.20" width="49.40" height="12.80" fill="url(#rh)" stroke="none" stroke-width="0.8"/>
<rect x="283.20" y="137.20" width="6.80" height="12.80" fill="#b4b4b6" stroke="none" stroke-width="0.8" opacity="0.75"/>
<rect x="345.40" y="104.00" width="49.20" height="46.00" fill="#eeebf1" stroke="none" stroke-width="0.8"/>
<rect x="345.40" y="104.00" width="7.10" height="46.00" fill="#e2e2e4" stroke="none" stroke-width="0.8"/>
<rect x="347.90" y="112.20" width="3.50" height="1.20" fill="#303030" stroke="none" stroke-width="0.8"/>
<rect x="347.90" y="126.00" width="3.50" height="1.20" fill="#303030" stroke="none" stroke-width="0.8"/>
<rect x="348.90" y="111.00" width="1.00" height="1.00" fill="#505050" stroke="none" stroke-width="0.8"/>
<rect x="348.90" y="124.80" width="1.00" height="1.00" fill="#505050" stroke="none" stroke-width="0.8"/>
<rect x="352.50" y="104.00" width="6.50" height="46.00" fill="url(#rv)" stroke="none" stroke-width="0.8"/>
<ellipse cx="369.5" cy="126.8" rx="9.4" ry="11.8" fill="url(#tg3)" filter="url(#bl05)"/><circle cx="369" cy="129" r="0.9" fill="#fff4d0"/>
<ellipse cx="366.4" cy="132.5" rx="2.9" ry="2.2" fill="#f4c4b0" opacity="0.38" filter="url(#bl1)"/><ellipse cx="369.9" cy="130.2" rx="3.5" ry="1.8" fill="#e06a60" opacity="0.39" filter="url(#bl1)"/><ellipse cx="372.5" cy="124.4" rx="3.0" ry="3.2" fill="#fbe0d4" opacity="0.23" filter="url(#bl1)"/><ellipse cx="371.3" cy="133.7" rx="4.0" ry="3.7" fill="#e06a60" opacity="0.27" filter="url(#bl1)"/><ellipse cx="366.4" cy="129.8" rx="4.5" ry="1.9" fill="#fbe0d4" opacity="0.24" filter="url(#bl1)"/><ellipse cx="366.0" cy="124.0" rx="4.5" ry="3.1" fill="#fbe0d4" opacity="0.36" filter="url(#bl1)"/><ellipse cx="366.8" cy="131.4" rx="3.8" ry="2.0" fill="#d85858" opacity="0.35" filter="url(#bl1)"/><ellipse cx="369.5" cy="123.9" rx="2.5" ry="2.3" fill="#f8d0c0" opacity="0.36" filter="url(#bl1)"/><ellipse cx="368.7" cy="130.4" rx="4.1" ry="1.9" fill="#f4c4b0" opacity="0.31" filter="url(#bl1)"/><ellipse cx="369.1" cy="119.5" rx="4.3" ry="2.8" fill="#fbe0d4" opacity="0.29" filter="url(#bl1)"/><ellipse cx="365.2" cy="125.7" rx="3.5" ry="3.4" fill="#d04848" opacity="0.35" filter="url(#bl1)"/><ellipse cx="370.9" cy="129.1" rx="2.8" ry="2.8" fill="#f8d0c0" opacity="0.31" filter="url(#bl1)"/><ellipse cx="364.4" cy="124.5" rx="2.5" ry="1.9" fill="#e06a60" opacity="0.22" filter="url(#bl1)"/><ellipse cx="372.9" cy="129.8" rx="3.5" ry="2.8" fill="#d85858" opacity="0.29" filter="url(#bl1)"/>
<rect x="345.40" y="137.20" width="49.20" height="12.80" fill="url(#rh)" stroke="none" stroke-width="0.8"/>
<rect x="345.40" y="137.20" width="7.10" height="12.80" fill="#b4b4b6" stroke="none" stroke-width="0.8" opacity="0.75"/>
<rect x="406.60" y="104.00" width="49.20" height="46.00" fill="#eeebf1" stroke="none" stroke-width="0.8"/>
<rect x="406.60" y="104.00" width="8.10" height="46.00" fill="#e2e2e4" stroke="none" stroke-width="0.8"/>
<rect x="409.10" y="112.20" width="3.50" height="1.20" fill="#303030" stroke="none" stroke-width="0.8"/>
<rect x="409.10" y="126.00" width="3.50" height="1.20" fill="#303030" stroke="none" stroke-width="0.8"/>
<rect x="410.10" y="111.00" width="1.00" height="1.00" fill="#505050" stroke="none" stroke-width="0.8"/>
<rect x="410.10" y="124.80" width="1.00" height="1.00" fill="#505050" stroke="none" stroke-width="0.8"/>
<rect x="414.70" y="104.00" width="6.50" height="46.00" fill="url(#rv)" stroke="none" stroke-width="0.8"/>
<path d="M424.5,114 C427,110 432,108.5 436,110.5 C439,108 444,107.2 448,108.5 C450.5,113 450.5,122 449,129 C446.5,136 440,138.2 433,138 C427,137.5 424.5,131 424,123 Z" fill="url(#tg4)" filter="url(#bl05)"/><ellipse cx="431" cy="120" rx="4" ry="7" fill="#d06058" opacity="0.45" filter="url(#bl1)"/>
<ellipse cx="430.3" cy="122.4" rx="3.3" ry="2.3" fill="#e06a60" opacity="0.36" filter="url(#bl1)"/><ellipse cx="429.5" cy="121.7" rx="2.5" ry="2.7" fill="#fbe0d4" opacity="0.37" filter="url(#bl1)"/><ellipse cx="432.6" cy="126.0" rx="2.2" ry="3.1" fill="#e06a60" opacity="0.25" filter="url(#bl1)"/><ellipse cx="438.6" cy="114.3" rx="2.9" ry="2.3" fill="#e06a60" opacity="0.33" filter="url(#bl1)"/><ellipse cx="440.6" cy="127.9" rx="3.2" ry="3.8" fill="#f8d0c0" opacity="0.28" filter="url(#bl1)"/><ellipse cx="438.6" cy="119.7" rx="3.1" ry="2.5" fill="#e06a60" opacity="0.28" filter="url(#bl1)"/><ellipse cx="441.1" cy="126.1" rx="2.0" ry="2.5" fill="#d04848" opacity="0.29" filter="url(#bl1)"/><ellipse cx="432.9" cy="118.3" rx="2.3" ry="2.3" fill="#d85858" opacity="0.38" filter="url(#bl1)"/><ellipse cx="444.0" cy="125.0" rx="4.1" ry="3.2" fill="#d85858" opacity="0.36" filter="url(#bl1)"/><ellipse cx="441.9" cy="121.0" rx="3.8" ry="2.0" fill="#e06a60" opacity="0.31" filter="url(#bl1)"/><ellipse cx="443.3" cy="125.8" rx="2.0" ry="2.0" fill="#d85858" opacity="0.26" filter="url(#bl1)"/><ellipse cx="436.6" cy="130.3" rx="3.1" ry="2.5" fill="#d04848" opacity="0.37" filter="url(#bl1)"/><ellipse cx="429.6" cy="120.0" rx="3.8" ry="3.7" fill="#d85858" opacity="0.22" filter="url(#bl1)"/><ellipse cx="441.1" cy="122.1" rx="3.3" ry="2.2" fill="#d04848" opacity="0.32" filter="url(#bl1)"/>
<rect x="406.60" y="137.20" width="49.20" height="12.80" fill="url(#rh)" stroke="none" stroke-width="0.8"/>
<rect x="406.60" y="137.20" width="8.10" height="12.80" fill="#b4b4b6" stroke="none" stroke-width="0.8" opacity="0.75"/>
<text x="221.3" y="157.8" font-size="6.5" font-style="italic" dominant-baseline="central" transform="translate(221.3 157.8) scale(0.9 1) translate(-221.3 -157.8)">Gadd45b<tspan font-size="4.5" dy="-2.6">+/+</tspan><tspan dy="2.6" font-style="normal">-isotype</tspan></text>
<text x="278.2" y="157.8" font-size="6.5" font-style="italic" dominant-baseline="central" transform="translate(278.2 157.8) scale(0.9 1) translate(-278.2 -157.8)">Gadd45b<tspan font-size="4.5" dy="-2.6">+/+</tspan><tspan dy="2.6" font-style="normal">-anti-CD8b</tspan></text>
<text x="344.6" y="157.8" font-size="6.5" font-style="italic" dominant-baseline="central" transform="translate(344.6 157.8) scale(0.9 1) translate(-344.6 -157.8)">Gadd45b<tspan font-size="4.5" dy="-2.6">&#8722;/&#8722;</tspan><tspan dy="2.6" font-style="normal">-isotype</tspan></text>
<text x="402.3" y="157.8" font-size="6.5" font-style="italic" dominant-baseline="central" transform="translate(402.3 157.8) scale(0.9 1) translate(-402.3 -157.8)">Gadd45b<tspan font-size="4.5" dy="-2.6">&#8722;/&#8722;</tspan><tspan dy="2.6" font-style="normal">-anti-CD8b</tspan></text>
<text x="193.50" y="181.50" font-size="14" text-anchor="start" dominant-baseline="central" font-weight="bold" fill="#000" stroke="#000" stroke-width="0.55">E</text>
<text x="204.70" y="225.00" font-size="6.4" text-anchor="middle" dominant-baseline="central" transform="rotate(-90 204.70 225.00) translate(204.70 225.00) scale(0.91 1) translate(-204.70 -225.00)">% Positive area</text>
<text x="242.30" y="183.00" font-size="6.4" text-anchor="middle" dominant-baseline="central" transform="translate(242.30 183.00) scale(0.91 1) translate(-242.30 -183.00)">iNOS</text>
<line x1="222.70" y1="190.00" x2="222.70" y2="254.80" stroke="#c4c4c4" stroke-width="0.7"/>
<line x1="222.70" y1="254.80" x2="262.00" y2="254.80" stroke="#c4c4c4" stroke-width="0.7"/>
<text x="219.50" y="191.20" font-size="6.3" text-anchor="end" dominant-baseline="central" transform="translate(219.50 191.20) scale(0.91 1) translate(-219.50 -191.20)">6</text>
<text x="219.50" y="212.50" font-size="6.3" text-anchor="end" dominant-baseline="central" transform="translate(219.50 212.50) scale(0.91 1) translate(-219.50 -212.50)">4</text>
<text x="219.50" y="233.70" font-size="6.3" text-anchor="end" dominant-baseline="central" transform="translate(219.50 233.70) scale(0.91 1) translate(-219.50 -233.70)">2</text>
<text x="219.50" y="254.30" font-size="6.3" text-anchor="end" dominant-baseline="central" transform="translate(219.50 254.30) scale(0.91 1) translate(-219.50 -254.30)">0</text>
<rect x="226.90" y="247.00" width="9.90" height="7.80" fill="#3c78e4" stroke="#2a58b0" stroke-width="0.8"/>
<line x1="231.85" y1="247.00" x2="231.85" y2="244.00" stroke="#2a58b0" stroke-width="0.8"/>
<line x1="229.65" y1="244.00" x2="234.05" y2="244.00" stroke="#2a58b0" stroke-width="0.8"/>
<rect x="247.30" y="210.90" width="10.60" height="43.90" fill="#a8c8de" stroke="#6f8ea6" stroke-width="0.8"/>
<line x1="252.60" y1="210.90" x2="252.60" y2="196.30" stroke="#6f8ea6" stroke-width="0.8"/>
<line x1="250.40" y1="196.30" x2="254.80" y2="196.30" stroke="#6f8ea6" stroke-width="0.8"/>
<path d="M232.20,237.90 V191.20 H251.60 V194.00" stroke="#777" stroke-width="0.8" fill="none"/>
<text x="242.30" y="189.50" font-size="6.8" text-anchor="middle" dominant-baseline="central" font-weight="bold" letter-spacing="0.6">**</text>
<text x="302.70" y="183.00" font-size="6.4" text-anchor="middle" dominant-baseline="central" transform="translate(302.70 183.00) scale(0.91 1) translate(-302.70 -183.00)">COX-2</text>
<line x1="284.80" y1="190.00" x2="284.80" y2="254.80" stroke="#c4c4c4" stroke-width="0.7"/>
<line x1="284.80" y1="254.80" x2="326.00" y2="254.80" stroke="#c4c4c4" stroke-width="0.7"/>
<text x="281.60" y="192.20" font-size="6.3" text-anchor="end" dominant-baseline="central" transform="translate(281.60 192.20) scale(0.91 1) translate(-281.60 -192.20)">1.8</text>
<text x="281.60" y="202.70" font-size="6.3" text-anchor="end" dominant-baseline="central" transform="translate(281.60 202.70) scale(0.91 1) translate(-281.60 -202.70)">1.5</text>
<text x="281.60" y="212.80" font-size="6.3" text-anchor="end" dominant-baseline="central" transform="translate(281.60 212.80) scale(0.91 1) translate(-281.60 -212.80)">1.2</text>
<text x="281.60" y="223.30" font-size="6.3" text-anchor="end" dominant-baseline="central" transform="translate(281.60 223.30) scale(0.91 1) translate(-281.60 -223.30)">0.9</text>
<text x="281.60" y="233.70" font-size="6.3" text-anchor="end" dominant-baseline="central" transform="translate(281.60 233.70) scale(0.91 1) translate(-281.60 -233.70)">0.6</text>
<text x="281.60" y="244.20" font-size="6.3" text-anchor="end" dominant-baseline="central" transform="translate(281.60 244.20) scale(0.91 1) translate(-281.60 -244.20)">0.3</text>
<text x="281.60" y="254.30" font-size="6.3" text-anchor="end" dominant-baseline="central" transform="translate(281.60 254.30) scale(0.91 1) translate(-281.60 -254.30)">0</text>
<rect x="289.70" y="241.20" width="10.80" height="13.60" fill="#3c78e4" stroke="#2a58b0" stroke-width="0.8"/>
<line x1="295.10" y1="241.20" x2="295.10" y2="240.00" stroke="#2a58b0" stroke-width="0.8"/>
<line x1="292.90" y1="240.00" x2="297.30" y2="240.00" stroke="#2a58b0" stroke-width="0.8"/>
<rect x="310.90" y="211.80" width="10.50" height="43.00" fill="#a8c8de" stroke="#6f8ea6" stroke-width="0.8"/>
<line x1="316.15" y1="211.80" x2="316.15" y2="196.80" stroke="#6f8ea6" stroke-width="0.8"/>
<line x1="313.95" y1="196.80" x2="318.35" y2="196.80" stroke="#6f8ea6" stroke-width="0.8"/>
<path d="M294.60,237.00 V191.20 H315.80 V194.00" stroke="#777" stroke-width="0.8" fill="none"/>
<text x="303.00" y="189.50" font-size="6.8" text-anchor="middle" dominant-baseline="central" font-weight="bold" letter-spacing="0.6">***</text>
<line x1="221.00" y1="258.70" x2="325.60" y2="258.70" stroke="#8a8a8a" stroke-width="1.0"/>
<text x="275.60" y="267.00" font-size="6.3" text-anchor="middle" dominant-baseline="central" transform="translate(275.60 267.00) scale(0.91 1) translate(-275.60 -267.00)">Proinflammatory</text>
<text x="370.20" y="183.00" font-size="6.4" text-anchor="middle" dominant-baseline="central" transform="translate(370.20 183.00) scale(0.91 1) translate(-370.20 -183.00)">YM-1/Chi3l3</text>
<line x1="349.00" y1="190.00" x2="349.00" y2="255.30" stroke="#c4c4c4" stroke-width="0.7"/>
<line x1="349.00" y1="255.30" x2="392.00" y2="255.30" stroke="#c4c4c4" stroke-width="0.7"/>
<text x="345.80" y="197.40" font-size="6.3" text-anchor="end" dominant-baseline="central" transform="translate(345.80 197.40) scale(0.91 1) translate(-345.80 -197.40)">0.5</text>
<text x="345.80" y="208.90" font-size="6.3" text-anchor="end" dominant-baseline="central" transform="translate(345.80 208.90) scale(0.91 1) translate(-345.80 -208.90)">0.4</text>
<text x="345.80" y="220.50" font-size="6.3" text-anchor="end" dominant-baseline="central" transform="translate(345.80 220.50) scale(0.91 1) translate(-345.80 -220.50)">0.3</text>
<text x="345.80" y="232.00" font-size="6.3" text-anchor="end" dominant-baseline="central" transform="translate(345.80 232.00) scale(0.91 1) translate(-345.80 -232.00)">0.2</text>
<text x="345.80" y="243.60" font-size="6.3" text-anchor="end" dominant-baseline="central" transform="translate(345.80 243.60) scale(0.91 1) translate(-345.80 -243.60)">0.1</text>
<text x="345.80" y="255.10" font-size="6.3" text-anchor="end" dominant-baseline="central" transform="translate(345.80 255.10) scale(0.91 1) translate(-345.80 -255.10)">0</text>
<rect x="354.80" y="202.90" width="10.60" height="52.40" fill="#e8261a" stroke="#b01a12" stroke-width="0.8"/>
<line x1="360.10" y1="202.90" x2="360.10" y2="199.20" stroke="#b01a12" stroke-width="0.8"/>
<line x1="357.90" y1="199.20" x2="362.30" y2="199.20" stroke="#b01a12" stroke-width="0.8"/>
<rect x="375.30" y="232.10" width="11.00" height="23.20" fill="#efd3d3" stroke="#a88e8e" stroke-width="0.8"/>
<line x1="380.80" y1="232.10" x2="380.80" y2="225.50" stroke="#a88e8e" stroke-width="0.8"/>
<line x1="378.60" y1="225.50" x2="383.00" y2="225.50" stroke="#a88e8e" stroke-width="0.8"/>
<path d="M359.20,197.00 V192.00 H381.20 V224.00" stroke="#777" stroke-width="0.8" fill="none"/>
<text x="370.30" y="190.50" font-size="6.8" text-anchor="middle" dominant-baseline="central" font-weight="bold" letter-spacing="0.6">**</text>
<text x="430.50" y="183.00" font-size="6.4" text-anchor="middle" dominant-baseline="central" transform="translate(430.50 183.00) scale(0.91 1) translate(-430.50 -183.00)">HO-1</text>
<line x1="408.60" y1="190.00" x2="408.60" y2="255.30" stroke="#c4c4c4" stroke-width="0.7"/>
<line x1="408.60" y1="255.30" x2="452.00" y2="255.30" stroke="#c4c4c4" stroke-width="0.7"/>
<text x="405.40" y="191.90" font-size="6.3" text-anchor="end" dominant-baseline="central" transform="translate(405.40 191.90) scale(0.91 1) translate(-405.40 -191.90)">0.3</text>
<text x="405.40" y="213.10" font-size="6.3" text-anchor="end" dominant-baseline="central" transform="translate(405.40 213.10) scale(0.91 1) translate(-405.40 -213.10)">0.2</text>
<text x="405.40" y="233.90" font-size="6.3" text-anchor="end" dominant-baseline="central" transform="translate(405.40 233.90) scale(0.91 1) translate(-405.40 -233.90)">0.1</text>
<text x="405.40" y="255.10" font-size="6.3" text-anchor="end" dominant-baseline="central" transform="translate(405.40 255.10) scale(0.91 1) translate(-405.40 -255.10)">0</text>
<rect x="415.90" y="216.40" width="10.90" height="38.90" fill="#e8261a" stroke="#b01a12" stroke-width="0.8"/>
<line x1="421.35" y1="216.40" x2="421.35" y2="204.70" stroke="#b01a12" stroke-width="0.8"/>
<line x1="419.15" y1="204.70" x2="423.55" y2="204.70" stroke="#b01a12" stroke-width="0.8"/>
<rect x="437.00" y="207.30" width="10.60" height="48.00" fill="#efd3d3" stroke="#a88e8e" stroke-width="0.8"/>
<line x1="442.30" y1="207.30" x2="442.30" y2="196.30" stroke="#a88e8e" stroke-width="0.8"/>
<line x1="440.10" y1="196.30" x2="444.50" y2="196.30" stroke="#a88e8e" stroke-width="0.8"/>
<text x="490.80" y="183.00" font-size="6.4" text-anchor="middle" dominant-baseline="central" transform="translate(490.80 183.00) scale(0.91 1) translate(-490.80 -183.00)">CD206</text>
<line x1="470.00" y1="190.00" x2="470.00" y2="255.30" stroke="#c4c4c4" stroke-width="0.7"/>
<line x1="470.00" y1="255.30" x2="514.00" y2="255.30" stroke="#c4c4c4" stroke-width="0.7"/>
<text x="466.80" y="191.20" font-size="6.3" text-anchor="end" dominant-baseline="central" transform="translate(466.80 191.20) scale(0.91 1) translate(-466.80 -191.20)">5</text>
<text x="466.80" y="204.30" font-size="6.3" text-anchor="end" dominant-baseline="central" transform="translate(466.80 204.30) scale(0.91 1) translate(-466.80 -204.30)">4</text>
<text x="466.80" y="216.80" font-size="6.3" text-anchor="end" dominant-baseline="central" transform="translate(466.80 216.80) scale(0.91 1) translate(-466.80 -216.80)">3</text>
<text x="466.80" y="229.60" font-size="6.3" text-anchor="end" dominant-baseline="central" transform="translate(466.80 229.60) scale(0.91 1) translate(-466.80 -229.60)">2</text>
<text x="466.80" y="242.30" font-size="6.3" text-anchor="end" dominant-baseline="central" transform="translate(466.80 242.30) scale(0.91 1) translate(-466.80 -242.30)">1</text>
<text x="466.80" y="255.10" font-size="6.3" text-anchor="end" dominant-baseline="central" transform="translate(466.80 255.10) scale(0.91 1) translate(-466.80 -255.10)">0</text>
<rect x="475.40" y="198.50" width="11.00" height="56.80" fill="#e8261a" stroke="#b01a12" stroke-width="0.8"/>
<line x1="480.90" y1="198.50" x2="480.90" y2="194.10" stroke="#b01a12" stroke-width="0.8"/>
<line x1="478.70" y1="194.10" x2="483.10" y2="194.10" stroke="#b01a12" stroke-width="0.8"/>
<rect x="497.30" y="201.00" width="11.00" height="54.30" fill="#efd3d3" stroke="#a88e8e" stroke-width="0.8"/>
<line x1="502.80" y1="201.00" x2="502.80" y2="193.40" stroke="#a88e8e" stroke-width="0.8"/>
<line x1="500.60" y1="193.40" x2="505.00" y2="193.40" stroke="#a88e8e" stroke-width="0.8"/>
<line x1="348.30" y1="259.70" x2="514.50" y2="259.70" stroke="#8a8a8a" stroke-width="1.0"/>
<text x="432.30" y="268.00" font-size="6.3" text-anchor="middle" dominant-baseline="central" transform="translate(432.30 268.00) scale(0.91 1) translate(-432.30 -268.00)">Anti-inflammatory</text>
<text x="0.50" y="283.50" font-size="14" text-anchor="start" dominant-baseline="central" font-weight="bold" fill="#000" stroke="#000" stroke-width="0.55">F</text>
<line x1="27.80" y1="292.00" x2="27.80" y2="395.40" stroke="#c4c4c4" stroke-width="0.7"/>
<line x1="27.80" y1="395.40" x2="166.30" y2="395.40" stroke="#c4c4c4" stroke-width="0.7"/>
<text x="23.40" y="293.50" font-size="6.4" text-anchor="end" dominant-baseline="central" transform="translate(23.40 293.50) scale(0.91 1) translate(-23.40 -293.50)">160</text>
<text x="23.40" y="319.30" font-size="6.4" text-anchor="end" dominant-baseline="central" transform="translate(23.40 319.30) scale(0.91 1) translate(-23.40 -319.30)">120</text>
<text x="23.40" y="344.80" font-size="6.4" text-anchor="end" dominant-baseline="central" transform="translate(23.40 344.80) scale(0.91 1) translate(-23.40 -344.80)">80</text>
<text x="23.40" y="370.10" font-size="6.4" text-anchor="end" dominant-baseline="central" transform="translate(23.40 370.10) scale(0.91 1) translate(-23.40 -370.10)">40</text>
<text x="23.40" y="395.40" font-size="6.4" text-anchor="end" dominant-baseline="central" transform="translate(23.40 395.40) scale(0.91 1) translate(-23.40 -395.40)">0</text>
<text x="5.90" y="344.50" font-size="6.3" text-anchor="middle" dominant-baseline="central" transform="rotate(-90 5.90 344.50) translate(5.90 344.50) scale(0.91 1) translate(-5.90 -344.50)">RLU (x 10<tspan font-size="4" dy="-2.1">6</tspan><tspan dy="2.1">)</tspan></text>
<rect x="41.70" y="384.40" width="10.10" height="11.00" fill="#fff" stroke="#8a8a8a" stroke-width="0.8"/>
<line x1="46.75" y1="384.40" x2="46.75" y2="381.70" stroke="#8a8a8a" stroke-width="0.8"/>
<line x1="44.55" y1="381.70" x2="48.95" y2="381.70" stroke="#8a8a8a" stroke-width="0.8"/>
<rect x="31.30" y="378.10" width="10.40" height="17.30" fill="#8c8c8c" stroke="#5c5c5c" stroke-width="0.8"/>
<line x1="36.50" y1="378.10" x2="36.50" y2="374.50" stroke="#5c5c5c" stroke-width="0.8"/>
<line x1="34.30" y1="374.50" x2="38.70" y2="374.50" stroke="#5c5c5c" stroke-width="0.8"/>
<rect x="69.20" y="378.70" width="10.10" height="16.70" fill="#fff" stroke="#8a8a8a" stroke-width="0.8"/>
<line x1="74.25" y1="378.70" x2="74.25" y2="373.80" stroke="#8a8a8a" stroke-width="0.8"/>
<line x1="72.05" y1="373.80" x2="76.45" y2="373.80" stroke="#8a8a8a" stroke-width="0.8"/>
<rect x="59.20" y="376.00" width="10.00" height="19.40" fill="#8c8c8c" stroke="#5c5c5c" stroke-width="0.8"/>
<line x1="64.20" y1="376.00" x2="64.20" y2="371.70" stroke="#5c5c5c" stroke-width="0.8"/>
<line x1="62.00" y1="371.70" x2="66.40" y2="371.70" stroke="#5c5c5c" stroke-width="0.8"/>
<rect x="96.90" y="373.20" width="9.90" height="22.20" fill="#fff" stroke="#8a8a8a" stroke-width="0.8"/>
<line x1="101.85" y1="373.20" x2="101.85" y2="367.00" stroke="#8a8a8a" stroke-width="0.8"/>
<line x1="99.65" y1="367.00" x2="104.05" y2="367.00" stroke="#8a8a8a" stroke-width="0.8"/>
<rect x="86.70" y="361.20" width="10.20" height="34.20" fill="#8c8c8c" stroke="#5c5c5c" stroke-width="0.8"/>
<line x1="91.80" y1="361.20" x2="91.80" y2="356.30" stroke="#5c5c5c" stroke-width="0.8"/>
<line x1="89.60" y1="356.30" x2="94.00" y2="356.30" stroke="#5c5c5c" stroke-width="0.8"/>
<rect x="125.00" y="372.00" width="10.00" height="23.40" fill="#fff" stroke="#8a8a8a" stroke-width="0.8"/>
<line x1="130.00" y1="372.00" x2="130.00" y2="362.30" stroke="#8a8a8a" stroke-width="0.8"/>
<line x1="127.80" y1="362.30" x2="132.20" y2="362.30" stroke="#8a8a8a" stroke-width="0.8"/>
<rect x="115.00" y="331.50" width="10.00" height="63.90" fill="#8c8c8c" stroke="#5c5c5c" stroke-width="0.8"/>
<line x1="120.00" y1="331.50" x2="120.00" y2="315.20" stroke="#5c5c5c" stroke-width="0.8"/>
<line x1="117.80" y1="315.20" x2="122.20" y2="315.20" stroke="#5c5c5c" stroke-width="0.8"/>
<rect x="152.50" y="368.00" width="10.00" height="27.40" fill="#fff" stroke="#8a8a8a" stroke-width="0.8"/>
<line x1="157.50" y1="368.00" x2="157.50" y2="358.50" stroke="#8a8a8a" stroke-width="0.8"/>
<line x1="155.30" y1="358.50" x2="159.70" y2="358.50" stroke="#8a8a8a" stroke-width="0.8"/>
<rect x="142.30" y="319.00" width="10.20" height="76.40" fill="#8c8c8c" stroke="#5c5c5c" stroke-width="0.8"/>
<line x1="147.40" y1="319.00" x2="147.40" y2="299.20" stroke="#5c5c5c" stroke-width="0.8"/>
<line x1="145.20" y1="299.20" x2="149.60" y2="299.20" stroke="#5c5c5c" stroke-width="0.8"/>
<path d="M119.80,311.00 V308.30 H129.80 V360.80" stroke="#777" stroke-width="0.8" fill="none"/>
<text x="124.70" y="306.40" font-size="6.8" text-anchor="middle" dominant-baseline="central" font-weight="bold" letter-spacing="0.6">*</text>
<path d="M147.70,296.50 V293.50 H157.70 V357.00" stroke="#777" stroke-width="0.8" fill="none"/>
<text x="153.20" y="291.20" font-size="6.8" text-anchor="middle" dominant-baseline="central" font-weight="bold" letter-spacing="0.6">*</text>
<text x="8.00" y="402.60" font-size="6.6" text-anchor="start" dominant-baseline="central" transform="translate(8.00 402.60) scale(0.91 1) translate(-8.00 -402.60)">Weeks:</text>
<text x="41.70" y="402.60" font-size="6.6" text-anchor="middle" dominant-baseline="central" transform="translate(41.70 402.60) scale(0.91 1) translate(-41.70 -402.60)">6</text>
<text x="68.80" y="402.60" font-size="6.6" text-anchor="middle" dominant-baseline="central" transform="translate(68.80 402.60) scale(0.91 1) translate(-68.80 -402.60)">7</text>
<text x="96.90" y="402.60" font-size="6.6" text-anchor="middle" dominant-baseline="central" transform="translate(96.90 402.60) scale(0.91 1) translate(-96.90 -402.60)">8</text>
<text x="124.60" y="402.60" font-size="6.6" text-anchor="middle" dominant-baseline="central" transform="translate(124.60 402.60) scale(0.91 1) translate(-124.60 -402.60)">9</text>
<text x="152.90" y="402.60" font-size="6.6" text-anchor="middle" dominant-baseline="central" transform="translate(152.90 402.60) scale(0.91 1) translate(-152.90 -402.60)">10</text>
<rect x="167.20" y="292.90" width="5.80" height="5.80" fill="#8c8c8c" stroke="#5c5c5c" stroke-width="0.8"/>
<text x="176.50" y="295.80" font-size="6.93" font-style="italic" dominant-baseline="central" text-anchor="start" transform="translate(176.50 295.80) scale(0.87 1) translate(-176.50 -295.80)">Gadd45b<tspan font-size="4.99" dy="-2.77">+/+</tspan></text>
<rect x="167.20" y="304.80" width="5.80" height="5.80" fill="#fff" stroke="#888" stroke-width="0.8"/>
<text x="176.50" y="307.70" font-size="6.93" font-style="italic" dominant-baseline="central" text-anchor="start" transform="translate(176.50 307.70) scale(0.87 1) translate(-176.50 -307.70)">Gadd45b<tspan font-size="4.99" dy="-2.77">&#8722;/&#8722;</tspan></text>
<text x="226.50" y="283.50" font-size="14" text-anchor="start" dominant-baseline="central" font-weight="bold" fill="#000" stroke="#000" stroke-width="0.55">G</text>
<defs>
<filter id="bl1" x="-30%" y="-30%" width="160%" height="160%"><feGaussianBlur stdDeviation="0.9"/></filter>
<filter id="bl2" x="-30%" y="-30%" width="160%" height="160%"><feGaussianBlur stdDeviation="1.6"/></filter>
<filter id="bl05" x="-30%" y="-30%" width="160%" height="160%"><feGaussianBlur stdDeviation="0.5"/></filter>
<linearGradient id="mbg" x1="0" y1="0" x2="0" y2="1"><stop offset="0" stop-color="#c2c2c2"/><stop offset="0.5" stop-color="#b4b4b4"/><stop offset="0.85" stop-color="#bcbcbc"/><stop offset="1" stop-color="#d8d8d8"/></linearGradient>
</defs>
<g transform="translate(260.10,291.00) scale(1.0000,1.0000)">
<rect width="27" height="48.6" fill="url(#mbg)"/>
<path d="M13,3 C17,3 19.8,5 20.8,8 C22.3,11 22.8,14 22.8,18 C23.3,25 23.3,32 22.8,38 C24.3,41 25.3,43.5 24.8,47 L2,47 C1.5,43.5 2.3,41 3.8,38 C3.3,32 3.3,25 3.8,18 C3.8,14 4.3,11 5.8,8 C6.8,5 9.5,3 13,3 Z" fill="#303036" filter="url(#bl1)"/>
<ellipse cx="13" cy="7.5" rx="1.8" ry="4" fill="#707076" opacity="0.6" filter="url(#bl1)"/>
<ellipse cx="7.5" cy="14" rx="2" ry="3" fill="#4a4a50" opacity="0.5" filter="url(#bl1)"/>
<ellipse cx="18.5" cy="14" rx="2" ry="3" fill="#4a4a50" opacity="0.5" filter="url(#bl1)"/>
<ellipse cx="12.8" cy="29" rx="8.5" ry="13" fill="#1e1e50" opacity="0.6" filter="url(#bl2)"/>
<ellipse cx="5.5" cy="46.2" rx="3.2" ry="1.9" fill="#d8d8d8" opacity="0.85" filter="url(#bl1)"/>
<ellipse cx="12.8" cy="46.8" rx="2.6" ry="1.6" fill="#c8c8c8" opacity="0.8" filter="url(#bl1)"/>
<ellipse cx="20" cy="46.2" rx="3.2" ry="1.9" fill="#d8d8d8" opacity="0.85" filter="url(#bl1)"/>
<rect x="6" y="29" width="14.5" height="11.5" rx="5" fill="#1c1ca8" opacity="0.85" filter="url(#bl2)"/>
<ellipse cx="9.6" cy="35.5" rx="1.5" ry="1.5" fill="#c8d8ff" opacity="1" filter="url(#bl05)"/>
<ellipse cx="17.9" cy="36.6" rx="1.5" ry="1.5" fill="#d0e0ff" opacity="1" filter="url(#bl05)"/>
</g>
<g transform="translate(293.10,291.00) scale(1.0000,1.0000)">
<rect width="27" height="48.6" fill="url(#mbg)"/>
<path d="M13,3 C17,3 19.8,5 20.8,8 C22.3,11 22.8,14 22.8,18 C23.3,25 23.3,32 22.8,38 C24.3,41 25.3,43.5 24.8,47 L2,47 C1.5,43.5 2.3,41 3.8,38 C3.3,32 3.3,25 3.8,18 C3.8,14 4.3,11 5.8,8 C6.8,5 9.5,3 13,3 Z" fill="#303036" filter="url(#bl1)"/>
<ellipse cx="13" cy="7.5" rx="1.8" ry="4" fill="#707076" opacity="0.6" filter="url(#bl1)"/>
<ellipse cx="7.5" cy="14" rx="2" ry="3" fill="#4a4a50" opacity="0.5" filter="url(#bl1)"/>
<ellipse cx="18.5" cy="14" rx="2" ry="3" fill="#4a4a50" opacity="0.5" filter="url(#bl1)"/>
<ellipse cx="12.8" cy="29" rx="8.5" ry="13" fill="#1e1e50" opacity="0.6" filter="url(#bl2)"/>
<ellipse cx="5.5" cy="46.2" rx="3.2" ry="1.9" fill="#d8d8d8" opacity="0.85" filter="url(#bl1)"/>
<ellipse cx="12.8" cy="46.8" rx="2.6" ry="1.6" fill="#c8c8c8" opacity="0.8" filter="url(#bl1)"/>
<ellipse cx="20" cy="46.2" rx="3.2" ry="1.9" fill="#d8d8d8" opacity="0.85" filter="url(#bl1)"/>
<rect x="3.5" y="20" width="17" height="21" rx="5" fill="#1c1ca8" opacity="0.8" filter="url(#bl2)"/>
<ellipse cx="15.5" cy="28.3" rx="1.6" ry="1.1" fill="#a0b8ff" opacity="1" filter="url(#bl05)"/>
<ellipse cx="16.1" cy="35.5" rx="1.6" ry="1.1" fill="#90a8ff" opacity="1" filter="url(#bl05)"/>
</g>
<g transform="translate(326.00,291.00) scale(1.0000,1.0000)">
<rect width="27" height="48.6" fill="url(#mbg)"/>
<path d="M13,3 C17,3 19.8,5 20.8,8 C22.3,11 22.8,14 22.8,18 C23.3,25 23.3,32 22.8,38 C24.3,41 25.3,43.5 24.8,47 L2,47 C1.5,43.5 2.3,41 3.8,38 C3.3,32 3.3,25 3.8,18 C3.8,14 4.3,11 5.8,8 C6.8,5 9.5,3 13,3 Z" fill="#303036" filter="url(#bl1)"/>
<ellipse cx="13" cy="7.5" rx="1.8" ry="4" fill="#707076" opacity="0.6" filter="url(#bl1)"/>
<ellipse cx="7.5" cy="14" rx="2" ry="3" fill="#4a4a50" opacity="0.5" filter="url(#bl1)"/>
<ellipse cx="18.5" cy="14" rx="2" ry="3" fill="#4a4a50" opacity="0.5" filter="url(#bl1)"/>
<ellipse cx="12.8" cy="29" rx="8.5" ry="13" fill="#1e1e50" opacity="0.6" filter="url(#bl2)"/>
<ellipse cx="5.5" cy="46.2" rx="3.2" ry="1.9" fill="#d8d8d8" opacity="0.85" filter="url(#bl1)"/>
<ellipse cx="12.8" cy="46.8" rx="2.6" ry="1.6" fill="#c8c8c8" opacity="0.8" filter="url(#bl1)"/>
<ellipse cx="20" cy="46.2" rx="3.2" ry="1.9" fill="#d8d8d8" opacity="0.85" filter="url(#bl1)"/>
<rect x="2.5" y="21" width="18.5" height="22" rx="5" fill="#1a26d0" opacity="0.95" filter="url(#bl2)"/>
<path d="M5,27.5 L9,27 L12,27.5 L15,26 L17.5,24.5" stroke="#38d8f0" stroke-width="2" fill="none" filter="url(#bl05)"/>
<path d="M6.5,27.5 L7,36.5" stroke="#38d8f0" stroke-width="2" fill="none" filter="url(#bl05)"/>
<ellipse cx="6.8" cy="34.5" rx="1.2" ry="1.4" fill="#90f0a0" opacity="1" filter="url(#bl05)"/>
<ellipse cx="14.9" cy="35.1" rx="4.0" ry="4.0" fill="#4060e8" opacity="1" filter="url(#bl05)"/>
<ellipse cx="14.9" cy="35.1" rx="3.4" ry="3.4" fill="#f0f0f0" opacity="1" filter="url(#bl05)"/>
<ellipse cx="14.9" cy="35.1" rx="2.5" ry="2.6" fill="#f02010" opacity="1" filter="url(#bl05)"/>
</g>
<g transform="translate(359.80,291.00) scale(1.0000,1.0000)">
<rect width="27" height="48.6" fill="url(#mbg)"/>
<path d="M13,3 C17,3 19.8,5 20.8,8 C22.3,11 22.8,14 22.8,18 C23.3,25 23.3,32 22.8,38 C24.3,41 25.3,43.5 24.8,47 L2,47 C1.5,43.5 2.3,41 3.8,38 C3.3,32 3.3,25 3.8,18 C3.8,14 4.3,11 5.8,8 C6.8,5 9.5,3 13,3 Z" fill="#303036" filter="url(#bl1)"/>
<ellipse cx="13" cy="7.5" rx="1.8" ry="4" fill="#707076" opacity="0.6" filter="url(#bl1)"/>
<ellipse cx="7.5" cy="14" rx="2" ry="3" fill="#4a4a50" opacity="0.5" filter="url(#bl1)"/>
<ellipse cx="18.5" cy="14" rx="2" ry="3" fill="#4a4a50" opacity="0.5" filter="url(#bl1)"/>
<ellipse cx="12.8" cy="29" rx="8.5" ry="13" fill="#1e1e50" opacity="0.6" filter="url(#bl2)"/>
<ellipse cx="5.5" cy="46.2" rx="3.2" ry="1.9" fill="#d8d8d8" opacity="0.85" filter="url(#bl1)"/>
<ellipse cx="12.8" cy="46.8" rx="2.6" ry="1.6" fill="#c8c8c8" opacity="0.8" filter="url(#bl1)"/>
<ellipse cx="20" cy="46.2" rx="3.2" ry="1.9" fill="#d8d8d8" opacity="0.85" filter="url(#bl1)"/>
<rect x="3" y="20" width="19.5" height="21.5" rx="5" fill="#1a26d0" opacity="0.95" filter="url(#bl2)"/>
<path d="M6.5,24.2 L15.5,23.6 L20.2,26.5 L20,36.5 L13,38.4 L6.8,35 Z" fill="#38d8f0" filter="url(#bl05)"/>
<path d="M7,25 L15.3,24.4 L19.6,27 L19.5,36 L13,37.8 L7.3,34.5 Z" fill="#e8e838" filter="url(#bl05)"/>
<path d="M7.8,25.5 L15,25 L18.8,27.2 L18.7,35.6 L13,37 L8,34.2 Z" fill="#f02010" filter="url(#bl05)"/>
<ellipse cx="13.5" cy="32" rx="0.8" ry="3" fill="#f0e040" opacity="1" filter="url(#bl05)" transform="rotate(30 13.5 32)"/>
<ellipse cx="6" cy="23" rx="2" ry="1.5" fill="#38d8f0" opacity="1" filter="url(#bl05)"/>
</g>
<g transform="translate(393.30,291.00) scale(1.0000,1.0000)">
<rect width="27" height="48.6" fill="url(#mbg)"/>
<path d="M13,3 C17,3 19.8,5 20.8,8 C22.3,11 22.8,14 22.8,18 C23.3,25 23.3,32 22.8,38 C24.3,41 25.3,43.5 24.8,47 L2,47 C1.5,43.5 2.3,41 3.8,38 C3.3,32 3.3,25 3.8,18 C3.8,14 4.3,11 5.8,8 C6.8,5 9.5,3 13,3 Z" fill="#303036" filter="url(#bl1)"/>
<ellipse cx="13" cy="7.5" rx="1.8" ry="4" fill="#707076" opacity="0.6" filter="url(#bl1)"/>
<ellipse cx="7.5" cy="14" rx="2" ry="3" fill="#4a4a50" opacity="0.5" filter="url(#bl1)"/>
<ellipse cx="18.5" cy="14" rx="2" ry="3" fill="#4a4a50" opacity="0.5" filter="url(#bl1)"/>
<ellipse cx="12.8" cy="29" rx="8.5" ry="13" fill="#1e1e50" opacity="0.6" filter="url(#bl2)"/>
<ellipse cx="5.5" cy="46.2" rx="3.2" ry="1.9" fill="#d8d8d8" opacity="0.85" filter="url(#bl1)"/>
<ellipse cx="12.8" cy="46.8" rx="2.6" ry="1.6" fill="#c8c8c8" opacity="0.8" filter="url(#bl1)"/>
<ellipse cx="20" cy="46.2" rx="3.2" ry="1.9" fill="#d8d8d8" opacity="0.85" filter="url(#bl1)"/>
<rect x="3" y="21" width="20" height="21" rx="5" fill="#1a26d0" opacity="0.95" filter="url(#bl2)"/>
<path d="M4.9,24.6 L10.5,26.6 L12.5,25 L19.6,24.5 L19.6,37.3 L14,38.2 L11,37.3 L5.4,36.8 Z" fill="#38d8f0" filter="url(#bl05)"/>
<path d="M5.3,25.1 L10.5,27 L12.5,25.4 L19.2,25 L19.2,36.8 L14,37.7 L11,36.8 L5.8,36.4 Z" fill="#e8e838" filter="url(#bl05)"/>
<path d="M5.8,25.6 L10.5,27.5 L12.5,25.9 L18.8,25.5 L18.8,36.3 L14,37.2 L11,36.3 L6.2,35.9 Z" fill="#f02010" filter="url(#bl05)"/>
<ellipse cx="12.2" cy="32" rx="1.7" ry="4" fill="#50e070" opacity="1" filter="url(#bl05)"/>
</g>
<g transform="translate(260.10,346.00) scale(1.0000,1.0000)">
<rect width="27" height="48.6" fill="url(#mbg)"/>
<path d="M13,3 C17,3 19.8,5 20.8,8 C22.3,11 22.8,14 22.8,18 C23.3,25 23.3,32 22.8,38 C24.3,41 25.3,43.5 24.8,47 L2,47 C1.5,43.5 2.3,41 3.8,38 C3.3,32 3.3,25 3.8,18 C3.8,14 4.3,11 5.8,8 C6.8,5 9.5,3 13,3 Z" fill="#303036" filter="url(#bl1)"/>
<ellipse cx="13" cy="7.5" rx="1.8" ry="4" fill="#707076" opacity="0.6" filter="url(#bl1)"/>
<ellipse cx="7.5" cy="14" rx="2" ry="3" fill="#4a4a50" opacity="0.5" filter="url(#bl1)"/>
<ellipse cx="18.5" cy="14" rx="2" ry="3" fill="#4a4a50" opacity="0.5" filter="url(#bl1)"/>
<ellipse cx="12.8" cy="29" rx="8.5" ry="13" fill="#1e1e50" opacity="0.6" filter="url(#bl2)"/>
<ellipse cx="5.5" cy="46.2" rx="3.2" ry="1.9" fill="#d8d8d8" opacity="0.85" filter="url(#bl1)"/>
<ellipse cx="12.8" cy="46.8" rx="2.6" ry="1.6" fill="#c8c8c8" opacity="0.8" filter="url(#bl1)"/>
<ellipse cx="20" cy="46.2" rx="3.2" ry="1.9" fill="#d8d8d8" opacity="0.85" filter="url(#bl1)"/>
<rect x="5" y="22.5" width="17" height="10.5" rx="4" fill="#2828b0" opacity="0.55" filter="url(#bl2)"/>
</g>
<g transform="translate(293.10,346.00) scale(1.0000,1.0000)">
<rect width="27" height="48.6" fill="url(#mbg)"/>
<path d="M13,3 C17,3 19.8,5 20.8,8 C22.3,11 22.8,14 22.8,18 C23.3,25 23.3,32 22.8,38 C24.3,41 25.3,43.5 24.8,47 L2,47 C1.5,43.5 2.3,41 3.8,38 C3.3,32 3.3,25 3.8,18 C3.8,14 4.3,11 5.8,8 C6.8,5 9.5,3 13,3 Z" fill="#303036" filter="url(#bl1)"/>
<ellipse cx="13" cy="7.5" rx="1.8" ry="4" fill="#707076" opacity="0.6" filter="url(#bl1)"/>
<ellipse cx="7.5" cy="14" rx="2" ry="3" fill="#4a4a50" opacity="0.5" filter="url(#bl1)"/>
<ellipse cx="18.5" cy="14" rx="2" ry="3" fill="#4a4a50" opacity="0.5" filter="url(#bl1)"/>
<ellipse cx="12.8" cy="29" rx="8.5" ry="13" fill="#1e1e50" opacity="0.6" filter="url(#bl2)"/>
<ellipse cx="5.5" cy="46.2" rx="3.2" ry="1.9" fill="#d8d8d8" opacity="0.85" filter="url(#bl1)"/>
<ellipse cx="12.8" cy="46.8" rx="2.6" ry="1.6" fill="#c8c8c8" opacity="0.8" filter="url(#bl1)"/>
<ellipse cx="20" cy="46.2" rx="3.2" ry="1.9" fill="#d8d8d8" opacity="0.85" filter="url(#bl1)"/>
<rect x="5.5" y="24" width="15" height="13" rx="4" fill="#1c20c0" opacity="0.75" filter="url(#bl2)"/>
<ellipse cx="7.9" cy="31" rx="1.5" ry="1.5" fill="#c0d4ff" opacity="1" filter="url(#bl05)"/>
<ellipse cx="14.2" cy="28.1" rx="2.8" ry="1.7" fill="#e8e838" opacity="1" filter="url(#bl05)"/>
<ellipse cx="14.2" cy="28.1" rx="1.7" ry="0.8" fill="#30305a" opacity="1" filter="url(#bl05)"/>
</g>
<g transform="translate(326.00,346.00) scale(1.0000,1.0000)">
<rect width="27" height="48.6" fill="url(#mbg)"/>
<path d="M13,3 C17,3 19.8,5 20.8,8 C22.3,11 22.8,14 22.8,18 C23.3,25 23.3,32 22.8,38 C24.3,41 25.3,43.5 24.8,47 L2,47 C1.5,43.5 2.3,41 3.8,38 C3.3,32 3.3,25 3.8,18 C3.8,14 4.3,11 5.8,8 C6.8,5 9.5,3 13,3 Z" fill="#303036" filter="url(#bl1)"/>
<ellipse cx="13" cy="7.5" rx="1.8" ry="4" fill="#707076" opacity="0.6" filter="url(#bl1)"/>
<ellipse cx="7.5" cy="14" rx="2" ry="3" fill="#4a4a50" opacity="0.5" filter="url(#bl1)"/>
<ellipse cx="18.5" cy="14" rx="2" ry="3" fill="#4a4a50" opacity="0.5" filter="url(#bl1)"/>
<ellipse cx="12.8" cy="29" rx="8.5" ry="13" fill="#1e1e50" opacity="0.6" filter="url(#bl2)"/>
<ellipse cx="5.5" cy="46.2" rx="3.2" ry="1.9" fill="#d8d8d8" opacity="0.85" filter="url(#bl1)"/>
<ellipse cx="12.8" cy="46.8" rx="2.6" ry="1.6" fill="#c8c8c8" opacity="0.8" filter="url(#bl1)"/>
<ellipse cx="20" cy="46.2" rx="3.2" ry="1.9" fill="#d8d8d8" opacity="0.85" filter="url(#bl1)"/>
<rect x="4.5" y="22.5" width="19" height="12.5" rx="5" fill="#1a26d0" opacity="0.85" filter="url(#bl2)"/>
<ellipse cx="14.4" cy="27.7" rx="5.8" ry="2.5" fill="#40d890" opacity="1" filter="url(#bl05)"/>
<ellipse cx="14.6" cy="27.6" rx="4.6" ry="1.6" fill="#f02010" opacity="1" filter="url(#bl05)"/>
<ellipse cx="7.5" cy="33" rx="1.3" ry="2.6" fill="#40c8e8" opacity="1" filter="url(#bl05)" transform="rotate(-20 7.5 33)"/>
</g>
<g transform="translate(359.80,346.00) scale(1.0000,1.0000)">
<rect width="27" height="48.6" fill="url(#mbg)"/>
<path d="M13,3 C17,3 19.8,5 20.8,8 C22.3,11 22.8,14 22.8,18 C23.3,25 23.3,32 22.8,38 C24.3,41 25.3,43.5 24.8,47 L2,47 C1.5,43.5 2.3,41 3.8,38 C3.3,32 3.3,25 3.8,18 C3.8,14 4.3,11 5.8,8 C6.8,5 9.5,3 13,3 Z" fill="#303036" filter="url(#bl1)"/>
<ellipse cx="13" cy="7.5" rx="1.8" ry="4" fill="#707076" opacity="0.6" filter="url(#bl1)"/>
<ellipse cx="7.5" cy="14" rx="2" ry="3" fill="#4a4a50" opacity="0.5" filter="url(#bl1)"/>
<ellipse cx="18.5" cy="14" rx="2" ry="3" fill="#4a4a50" opacity="0.5" filter="url(#bl1)"/>
<ellipse cx="12.8" cy="29" rx="8.5" ry="13" fill="#1e1e50" opacity="0.6" filter="url(#bl2)"/>
<ellipse cx="5.5" cy="46.2" rx="3.2" ry="1.9" fill="#d8d8d8" opacity="0.85" filter="url(#bl1)"/>
<ellipse cx="12.8" cy="46.8" rx="2.6" ry="1.6" fill="#c8c8c8" opacity="0.8" filter="url(#bl1)"/>
<ellipse cx="20" cy="46.2" rx="3.2" ry="1.9" fill="#d8d8d8" opacity="0.85" filter="url(#bl1)"/>
<rect x="4.5" y="22" width="17.5" height="15" rx="4" fill="#1c20c0" opacity="0.75" filter="url(#bl2)"/>
<ellipse cx="9.2" cy="33.3" rx="1.4" ry="3.4" fill="#90e060" opacity="1" filter="url(#bl05)" transform="rotate(15 9.2 33.3)"/>
<ellipse cx="17.1" cy="28.7" rx="1.2" ry="1.2" fill="#a8c0ff" opacity="1" filter="url(#bl05)"/>
</g>
<g transform="translate(393.30,346.00) scale(1.0000,1.0000)">
<rect width="27" height="48.6" fill="url(#mbg)"/>
<path d="M13,3 C17,3 19.8,5 20.8,8 C22.3,11 22.8,14 22.8,18 C23.3,25 23.3,32 22.8,38 C24.3,41 25.3,43.5 24.8,47 L2,47 C1.5,43.5 2.3,41 3.8,38 C3.3,32 3.3,25 3.8,18 C3.8,14 4.3,11 5.8,8 C6.8,5 9.5,3 13,3 Z" fill="#303036" filter="url(#bl1)"/>
<ellipse cx="13" cy="7.5" rx="1.8" ry="4" fill="#707076" opacity="0.6" filter="url(#bl1)"/>
<ellipse cx="7.5" cy="14" rx="2" ry="3" fill="#4a4a50" opacity="0.5" filter="url(#bl1)"/>
<ellipse cx="18.5" cy="14" rx="2" ry="3" fill="#4a4a50" opacity="0.5" filter="url(#bl1)"/>
<ellipse cx="12.8" cy="29" rx="8.5" ry="13" fill="#1e1e50" opacity="0.6" filter="url(#bl2)"/>
<ellipse cx="5.5" cy="46.2" rx="3.2" ry="1.9" fill="#d8d8d8" opacity="0.85" filter="url(#bl1)"/>
<ellipse cx="12.8" cy="46.8" rx="2.6" ry="1.6" fill="#c8c8c8" opacity="0.8" filter="url(#bl1)"/>
<ellipse cx="20" cy="46.2" rx="3.2" ry="1.9" fill="#d8d8d8" opacity="0.85" filter="url(#bl1)"/>
<rect x="6" y="23" width="16" height="14" rx="4" fill="#1c20c0" opacity="0.75" filter="url(#bl2)"/>
<ellipse cx="14.3" cy="27.4" rx="3.6" ry="1.3" fill="#d8f060" opacity="1" filter="url(#bl05)" transform="rotate(12 14.3 27.4)"/>
<ellipse cx="18.3" cy="28.7" rx="1.5" ry="1.1" fill="#e070a8" opacity="1" filter="url(#bl05)"/>
</g>
<text x="252.8" y="313" font-size="6.5" font-style="italic" text-anchor="middle" dominant-baseline="central" transform="rotate(-90 252.8 314)">Gadd45b<tspan font-size="4" dy="-2.4">+/+</tspan></text>
<text x="252.8" y="367" font-size="6.5" font-style="italic" text-anchor="middle" dominant-baseline="central" transform="rotate(-90 252.8 367)">Gadd45b<tspan font-size="4" dy="-2.4">&#8722;/&#8722;</tspan></text>
<text x="241.40" y="401.60" font-size="6.6" text-anchor="start" dominant-baseline="central" transform="translate(241.40 401.60) scale(0.91 1) translate(-241.40 -401.60)">Weeks:</text>
<text x="273.40" y="401.60" font-size="6.6" text-anchor="middle" dominant-baseline="central" transform="translate(273.40 401.60) scale(0.91 1) translate(-273.40 -401.60)">6</text>
<text x="306.30" y="401.60" font-size="6.6" text-anchor="middle" dominant-baseline="central" transform="translate(306.30 401.60) scale(0.91 1) translate(-306.30 -401.60)">7</text>
<text x="339.40" y="401.60" font-size="6.6" text-anchor="middle" dominant-baseline="central" transform="translate(339.40 401.60) scale(0.91 1) translate(-339.40 -401.60)">8</text>
<text x="373.10" y="401.60" font-size="6.6" text-anchor="middle" dominant-baseline="central" transform="translate(373.10 401.60) scale(0.91 1) translate(-373.10 -401.60)">9</text>
<text x="406.80" y="401.60" font-size="6.6" text-anchor="middle" dominant-baseline="central" transform="translate(406.80 401.60) scale(0.91 1) translate(-406.80 -401.60)">10</text>
<text x="0.50" y="421.80" font-size="14" text-anchor="start" dominant-baseline="central" font-weight="bold" fill="#000" stroke="#000" stroke-width="0.55">H</text>
<text x="8.70" y="469.60" font-size="6.4" text-anchor="middle" dominant-baseline="central" transform="rotate(-90 8.70 469.60) translate(8.70 469.60) scale(0.91 1) translate(-8.70 -469.60)">% Positive cells</text>
<text x="49.60" y="424.40" font-size="6.4" text-anchor="middle" dominant-baseline="central" transform="translate(49.60 424.40) scale(0.91 1) translate(-49.60 -424.40)">CD3</text>
<line x1="27.90" y1="434.00" x2="27.90" y2="500.30" stroke="#c4c4c4" stroke-width="0.7"/>
<line x1="27.90" y1="500.30" x2="73.00" y2="500.30" stroke="#c4c4c4" stroke-width="0.7"/>
<text x="24.50" y="436.00" font-size="6.4" text-anchor="end" dominant-baseline="central" transform="translate(24.50 436.00) scale(0.91 1) translate(-24.50 -436.00)">20</text>
<text x="24.50" y="452.00" font-size="6.4" text-anchor="end" dominant-baseline="central" transform="translate(24.50 452.00) scale(0.91 1) translate(-24.50 -452.00)">15</text>
<text x="24.50" y="467.30" font-size="6.4" text-anchor="end" dominant-baseline="central" transform="translate(24.50 467.30) scale(0.91 1) translate(-24.50 -467.30)">10</text>
<text x="24.50" y="482.70" font-size="6.4" text-anchor="end" dominant-baseline="central" transform="translate(24.50 482.70) scale(0.91 1) translate(-24.50 -482.70)">5</text>
<text x="24.50" y="498.50" font-size="6.4" text-anchor="end" dominant-baseline="central" transform="translate(24.50 498.50) scale(0.91 1) translate(-24.50 -498.50)">0</text>
<line x1="40.00" y1="467.30" x2="40.00" y2="473.00" stroke="#555" stroke-width="0.8"/>
<line x1="40.00" y1="480.40" x2="40.00" y2="485.00" stroke="#555" stroke-width="0.8"/>
<rect x="34.20" y="473.00" width="11.60" height="7.40" fill="#8a8a8a" stroke="#555" stroke-width="0.8"/>
<line x1="34.20" y1="476.30" x2="45.80" y2="476.30" stroke="#222" stroke-width="1.1"/>
<line x1="60.55" y1="449.40" x2="60.55" y2="460.40" stroke="#777" stroke-width="0.8"/>
<line x1="60.55" y1="473.50" x2="60.55" y2="484.00" stroke="#777" stroke-width="0.8"/>
<rect x="54.40" y="460.40" width="12.30" height="13.10" fill="#fff" stroke="#777" stroke-width="0.8"/>
<line x1="54.40" y1="468.70" x2="66.70" y2="468.70" stroke="#444" stroke-width="1.1"/>
<path d="M40.00,447.50 V444.20 H60.20 V447.50" stroke="#777" stroke-width="0.8" fill="none"/>
<text x="50.30" y="442.20" font-size="6.8" text-anchor="middle" dominant-baseline="central" font-weight="bold" letter-spacing="0.6">*</text>
<text x="108.00" y="424.40" font-size="6.4" text-anchor="middle" dominant-baseline="central" transform="translate(108.00 424.40) scale(0.91 1) translate(-108.00 -424.40)">CD4</text>
<line x1="85.60" y1="434.00" x2="85.60" y2="500.30" stroke="#c4c4c4" stroke-width="0.7"/>
<line x1="85.60" y1="500.30" x2="129.80" y2="500.30" stroke="#c4c4c4" stroke-width="0.7"/>
<text x="82.20" y="436.50" font-size="6.4" text-anchor="end" dominant-baseline="central" transform="translate(82.20 436.50) scale(0.91 1) translate(-82.20 -436.50)">5</text>
<text x="82.20" y="448.80" font-size="6.4" text-anchor="end" dominant-baseline="central" transform="translate(82.20 448.80) scale(0.91 1) translate(-82.20 -448.80)">4</text>
<text x="82.20" y="461.10" font-size="6.4" text-anchor="end" dominant-baseline="central" transform="translate(82.20 461.10) scale(0.91 1) translate(-82.20 -461.10)">3</text>
<text x="82.20" y="473.40" font-size="6.4" text-anchor="end" dominant-baseline="central" transform="translate(82.20 473.40) scale(0.91 1) translate(-82.20 -473.40)">2</text>
<text x="82.20" y="485.70" font-size="6.4" text-anchor="end" dominant-baseline="central" transform="translate(82.20 485.70) scale(0.91 1) translate(-82.20 -485.70)">1</text>
<text x="82.20" y="498.00" font-size="6.4" text-anchor="end" dominant-baseline="central" transform="translate(82.20 498.00) scale(0.91 1) translate(-82.20 -498.00)">0</text>
<line x1="97.85" y1="455.20" x2="97.85" y2="469.20" stroke="#555" stroke-width="0.8"/>
<line x1="97.85" y1="490.40" x2="97.85" y2="492.30" stroke="#555" stroke-width="0.8"/>
<rect x="91.90" y="469.20" width="11.90" height="21.20" fill="#8a8a8a" stroke="#555" stroke-width="0.8"/>
<line x1="91.90" y1="486.30" x2="103.80" y2="486.30" stroke="#222" stroke-width="1.1"/>
<line x1="117.80" y1="459.00" x2="117.80" y2="475.40" stroke="#777" stroke-width="0.8"/>
<line x1="117.80" y1="487.90" x2="117.80" y2="488.80" stroke="#777" stroke-width="0.8"/>
<rect x="111.90" y="475.40" width="11.80" height="12.50" fill="#fff" stroke="#777" stroke-width="0.8"/>
<line x1="111.90" y1="481.20" x2="123.70" y2="481.20" stroke="#444" stroke-width="1.1"/>
<text x="168.30" y="424.40" font-size="6.4" text-anchor="middle" dominant-baseline="central" transform="translate(168.30 424.40) scale(0.91 1) translate(-168.30 -424.40)">CD8</text>
<line x1="144.20" y1="434.00" x2="144.20" y2="500.30" stroke="#c4c4c4" stroke-width="0.7"/>
<line x1="144.20" y1="500.30" x2="190.40" y2="500.30" stroke="#c4c4c4" stroke-width="0.7"/>
<text x="140.80" y="436.50" font-size="6.4" text-anchor="end" dominant-baseline="central" transform="translate(140.80 436.50) scale(0.91 1) translate(-140.80 -436.50)">20</text>
<text x="140.80" y="452.30" font-size="6.4" text-anchor="end" dominant-baseline="central" transform="translate(140.80 452.30) scale(0.91 1) translate(-140.80 -452.30)">15</text>
<text x="140.80" y="467.30" font-size="6.4" text-anchor="end" dominant-baseline="central" transform="translate(140.80 467.30) scale(0.91 1) translate(-140.80 -467.30)">10</text>
<text x="140.80" y="482.70" font-size="6.4" text-anchor="end" dominant-baseline="central" transform="translate(140.80 482.70) scale(0.91 1) translate(-140.80 -482.70)">5</text>
<text x="140.80" y="498.50" font-size="6.4" text-anchor="end" dominant-baseline="central" transform="translate(140.80 498.50) scale(0.91 1) translate(-140.80 -498.50)">0</text>
<line x1="157.40" y1="473.50" x2="157.40" y2="479.60" stroke="#555" stroke-width="0.8"/>
<line x1="157.40" y1="486.50" x2="157.40" y2="488.80" stroke="#555" stroke-width="0.8"/>
<rect x="151.30" y="479.60" width="12.20" height="6.90" fill="#8a8a8a" stroke="#555" stroke-width="0.8"/>
<line x1="151.30" y1="484.00" x2="163.50" y2="484.00" stroke="#222" stroke-width="1.1"/>
<line x1="178.15" y1="462.90" x2="178.15" y2="467.30" stroke="#777" stroke-width="0.8"/>
<line x1="178.15" y1="479.20" x2="178.15" y2="487.90" stroke="#777" stroke-width="0.8"/>
<rect x="172.10" y="467.30" width="12.10" height="11.90" fill="#fff" stroke="#777" stroke-width="0.8"/>
<line x1="172.10" y1="476.00" x2="184.20" y2="476.00" stroke="#444" stroke-width="1.1"/>
<path d="M157.70,460.40 V457.10 H177.90 V460.40" stroke="#777" stroke-width="0.8" fill="none"/>
<text x="168.20" y="455.20" font-size="6.8" text-anchor="middle" dominant-baseline="central" font-weight="bold" letter-spacing="0.6">**</text>
<text x="228.50" y="424.40" font-size="6.4" text-anchor="middle" dominant-baseline="central" transform="translate(228.50 424.40) scale(0.91 1) translate(-228.50 -424.40)">B220</text>
<line x1="204.20" y1="434.00" x2="204.20" y2="500.30" stroke="#c4c4c4" stroke-width="0.7"/>
<line x1="204.20" y1="500.30" x2="250.00" y2="500.30" stroke="#c4c4c4" stroke-width="0.7"/>
<text x="200.80" y="436.00" font-size="6.4" text-anchor="end" dominant-baseline="central" transform="translate(200.80 436.00) scale(0.91 1) translate(-200.80 -436.00)">15</text>
<text x="200.80" y="457.10" font-size="6.4" text-anchor="end" dominant-baseline="central" transform="translate(200.80 457.10) scale(0.91 1) translate(-200.80 -457.10)">10</text>
<text x="200.80" y="477.70" font-size="6.4" text-anchor="end" dominant-baseline="central" transform="translate(200.80 477.70) scale(0.91 1) translate(-200.80 -477.70)">5</text>
<text x="200.80" y="498.50" font-size="6.4" text-anchor="end" dominant-baseline="central" transform="translate(200.80 498.50) scale(0.91 1) translate(-200.80 -498.50)">0</text>
<line x1="216.65" y1="467.70" x2="216.65" y2="476.00" stroke="#555" stroke-width="0.8"/>
<line x1="216.65" y1="490.40" x2="216.65" y2="495.20" stroke="#555" stroke-width="0.8"/>
<rect x="210.60" y="476.00" width="12.10" height="14.40" fill="#8a8a8a" stroke="#555" stroke-width="0.8"/>
<line x1="210.60" y1="488.50" x2="222.70" y2="488.50" stroke="#222" stroke-width="1.1"/>
<line x1="237.75" y1="459.00" x2="237.75" y2="475.40" stroke="#777" stroke-width="0.8"/>
<line x1="237.75" y1="491.30" x2="237.75" y2="494.60" stroke="#777" stroke-width="0.8"/>
<rect x="231.70" y="475.40" width="12.10" height="15.90" fill="#fff" stroke="#777" stroke-width="0.8"/>
<line x1="231.70" y1="481.20" x2="243.80" y2="481.20" stroke="#444" stroke-width="1.1"/>
<text x="288.00" y="424.40" font-size="6.4" text-anchor="middle" dominant-baseline="central" transform="translate(288.00 424.40) scale(0.91 1) translate(-288.00 -424.40)">F4/80/CD11b</text>
<line x1="265.00" y1="434.00" x2="265.00" y2="500.30" stroke="#c4c4c4" stroke-width="0.7"/>
<line x1="265.00" y1="500.30" x2="310.00" y2="500.30" stroke="#c4c4c4" stroke-width="0.7"/>
<text x="261.60" y="436.50" font-size="6.4" text-anchor="end" dominant-baseline="central" transform="translate(261.60 436.50) scale(0.91 1) translate(-261.60 -436.50)">30</text>
<text x="261.60" y="447.00" font-size="6.4" text-anchor="end" dominant-baseline="central" transform="translate(261.60 447.00) scale(0.91 1) translate(-261.60 -447.00)">25</text>
<text x="261.60" y="457.00" font-size="6.4" text-anchor="end" dominant-baseline="central" transform="translate(261.60 457.00) scale(0.91 1) translate(-261.60 -457.00)">20</text>
<text x="261.60" y="467.30" font-size="6.4" text-anchor="end" dominant-baseline="central" transform="translate(261.60 467.30) scale(0.91 1) translate(-261.60 -467.30)">15</text>
<text x="261.60" y="477.70" font-size="6.4" text-anchor="end" dominant-baseline="central" transform="translate(261.60 477.70) scale(0.91 1) translate(-261.60 -477.70)">10</text>
<text x="261.60" y="487.90" font-size="6.4" text-anchor="end" dominant-baseline="central" transform="translate(261.60 487.90) scale(0.91 1) translate(-261.60 -487.90)">5</text>
<text x="261.60" y="498.50" font-size="6.4" text-anchor="end" dominant-baseline="central" transform="translate(261.60 498.50) scale(0.91 1) translate(-261.60 -498.50)">0</text>
<line x1="277.25" y1="477.00" x2="277.25" y2="479.60" stroke="#555" stroke-width="0.8"/>
<line x1="277.25" y1="485.60" x2="277.25" y2="487.30" stroke="#555" stroke-width="0.8"/>
<rect x="271.20" y="479.60" width="12.10" height="6.00" fill="#8a8a8a" stroke="#555" stroke-width="0.8"/>
<line x1="271.20" y1="482.10" x2="283.30" y2="482.10" stroke="#222" stroke-width="1.1"/>
<line x1="297.65" y1="444.60" x2="297.65" y2="465.40" stroke="#777" stroke-width="0.8"/>
<line x1="297.65" y1="480.20" x2="297.65" y2="488.80" stroke="#777" stroke-width="0.8"/>
<rect x="291.50" y="465.40" width="12.30" height="14.80" fill="#fff" stroke="#777" stroke-width="0.8"/>
<line x1="291.50" y1="476.30" x2="303.80" y2="476.30" stroke="#444" stroke-width="1.1"/>
<path d="M277.90,443.00 V439.80 H298.00 V443.00" stroke="#777" stroke-width="0.8" fill="none"/>
<text x="287.80" y="438.40" font-size="6.8" text-anchor="middle" dominant-baseline="central" font-weight="bold" letter-spacing="0.6">*</text>
<text x="344.20" y="424.40" font-size="6.4" text-anchor="middle" dominant-baseline="central" transform="translate(344.20 424.40) scale(0.91 1) translate(-344.20 -424.40)">Ly6G</text>
<line x1="322.70" y1="434.00" x2="322.70" y2="500.30" stroke="#c4c4c4" stroke-width="0.7"/>
<line x1="322.70" y1="500.30" x2="367.30" y2="500.30" stroke="#c4c4c4" stroke-width="0.7"/>
<text x="319.30" y="436.50" font-size="6.4" text-anchor="end" dominant-baseline="central" transform="translate(319.30 436.50) scale(0.91 1) translate(-319.30 -436.50)">3</text>
<text x="319.30" y="457.10" font-size="6.4" text-anchor="end" dominant-baseline="central" transform="translate(319.30 457.10) scale(0.91 1) translate(-319.30 -457.10)">2</text>
<text x="319.30" y="477.70" font-size="6.4" text-anchor="end" dominant-baseline="central" transform="translate(319.30 477.70) scale(0.91 1) translate(-319.30 -477.70)">1</text>
<text x="319.30" y="498.50" font-size="6.4" text-anchor="end" dominant-baseline="central" transform="translate(319.30 498.50) scale(0.91 1) translate(-319.30 -498.50)">0</text>
<line x1="334.25" y1="489.20" x2="334.25" y2="491.30" stroke="#555" stroke-width="0.8"/>
<line x1="334.25" y1="494.20" x2="334.25" y2="495.60" stroke="#555" stroke-width="0.8"/>
<rect x="328.50" y="491.30" width="11.50" height="2.90" fill="#8a8a8a" stroke="#555" stroke-width="0.8"/>
<line x1="328.50" y1="493.00" x2="340.00" y2="493.00" stroke="#222" stroke-width="1.1"/>
<line x1="354.90" y1="473.50" x2="354.90" y2="479.20" stroke="#777" stroke-width="0.8"/>
<line x1="354.90" y1="491.20" x2="354.90" y2="495.60" stroke="#777" stroke-width="0.8"/>
<rect x="349.00" y="479.20" width="11.80" height="12.00" fill="#fff" stroke="#777" stroke-width="0.8"/>
<line x1="349.00" y1="486.50" x2="360.80" y2="486.50" stroke="#444" stroke-width="1.1"/>
<path d="M334.20,471.20 V468.00 H354.20 V471.20" stroke="#777" stroke-width="0.8" fill="none"/>
<text x="344.90" y="466.20" font-size="6.8" text-anchor="middle" dominant-baseline="central" font-weight="bold" letter-spacing="0.6">**</text>
<text x="370.50" y="421.80" font-size="14" text-anchor="start" dominant-baseline="central" font-weight="bold" fill="#000" stroke="#000" stroke-width="0.55">I</text>
<text x="374.80" y="464.60" font-size="6.8" text-anchor="middle" dominant-baseline="central" transform="rotate(-90 374.80 464.60)">% MHC-II<tspan font-size="4.6" dy="-2.5">hi</tspan><tspan dy="2.5"> cells</tspan></text>
<text x="413.80" y="423.80" font-size="6.4" text-anchor="middle" dominant-baseline="central" transform="translate(413.80 423.80) scale(0.91 1) translate(-413.80 -423.80)">MHC-II</text>
<text x="414.10" y="431.20" font-size="6.8" text-anchor="middle" dominant-baseline="central" font-weight="bold" letter-spacing="0.6">***</text>
<path d="M403.30,435.80 V432.90 H423.50 V435.80" stroke="#777" stroke-width="0.8" fill="none"/>
<line x1="390.80" y1="436.00" x2="390.80" y2="500.20" stroke="#c4c4c4" stroke-width="0.7"/>
<line x1="390.80" y1="500.20" x2="437.30" y2="500.20" stroke="#c4c4c4" stroke-width="0.7"/>
<text x="388.20" y="443.10" font-size="6.4" text-anchor="end" dominant-baseline="central" transform="translate(388.20 443.10) scale(0.91 1) translate(-388.20 -443.10)">65</text>
<text x="388.20" y="456.90" font-size="6.4" text-anchor="end" dominant-baseline="central" transform="translate(388.20 456.90) scale(0.91 1) translate(-388.20 -456.90)">55</text>
<text x="388.20" y="470.40" font-size="6.4" text-anchor="end" dominant-baseline="central" transform="translate(388.20 470.40) scale(0.91 1) translate(-388.20 -470.40)">45</text>
<text x="388.20" y="484.20" font-size="6.4" text-anchor="end" dominant-baseline="central" transform="translate(388.20 484.20) scale(0.91 1) translate(-388.20 -484.20)">35</text>
<text x="388.20" y="498.30" font-size="6.4" text-anchor="end" dominant-baseline="central" transform="translate(388.20 498.30) scale(0.91 1) translate(-388.20 -498.30)">25</text>
<line x1="403.15" y1="462.70" x2="403.15" y2="468.00" stroke="#555" stroke-width="0.8"/>
<line x1="403.15" y1="484.20" x2="403.15" y2="491.20" stroke="#555" stroke-width="0.8"/>
<rect x="397.30" y="468.00" width="11.70" height="16.20" fill="#8a8a8a" stroke="#555" stroke-width="0.8"/>
<line x1="397.30" y1="473.80" x2="409.00" y2="473.80" stroke="#222" stroke-width="1.1"/>
<line x1="423.45" y1="438.10" x2="423.45" y2="445.40" stroke="#777" stroke-width="0.8"/>
<line x1="423.45" y1="458.80" x2="423.45" y2="465.00" stroke="#777" stroke-width="0.8"/>
<rect x="417.70" y="445.40" width="11.50" height="13.40" fill="#fff" stroke="#777" stroke-width="0.8"/>
<line x1="417.70" y1="453.10" x2="429.20" y2="453.10" stroke="#444" stroke-width="1.1"/>
<text x="437.50" y="421.80" font-size="14" text-anchor="start" dominant-baseline="central" font-weight="bold" fill="#000" stroke="#000" stroke-width="0.55">J</text>
<text x="451.30" y="466.00" font-size="6.3" text-anchor="middle" dominant-baseline="central" transform="rotate(-90 451.30 466.00) translate(451.30 466.00) scale(0.91 1) translate(-451.30 -466.00)">Median MHC-II expression level</text>
<text x="459.30" y="456.40" font-size="6.3" text-anchor="middle" dominant-baseline="central" transform="rotate(-90 459.30 456.40) translate(459.30 456.40) scale(0.91 1) translate(-459.30 -456.40)">(x10<tspan font-size="4" dy="-2.3">3</tspan><tspan dy="2.3">)</tspan></text>
<line x1="463.70" y1="432.60" x2="463.70" y2="501.20" stroke="#999" stroke-width="0.9"/>
<text x="496.60" y="423.60" font-size="6.4" text-anchor="middle" dominant-baseline="central" transform="translate(496.60 423.60) scale(0.91 1) translate(-496.60 -423.60)">MHC-II</text>
<text x="496.90" y="429.60" font-size="6.8" text-anchor="middle" dominant-baseline="central" font-weight="bold" letter-spacing="0.6">***</text>
<path d="M486.20,434.60 V431.00 H506.30 V434.60" stroke="#777" stroke-width="0.8" fill="none"/>
<line x1="473.60" y1="434.00" x2="473.60" y2="500.70" stroke="#c4c4c4" stroke-width="0.7"/>
<line x1="473.60" y1="500.70" x2="520.00" y2="500.70" stroke="#c4c4c4" stroke-width="0.7"/>
<text x="469.50" y="436.00" font-size="6.4" text-anchor="middle" dominant-baseline="central" transform="translate(469.50 436.00) scale(0.91 1) translate(-469.50 -436.00)">20</text>
<text x="469.50" y="452.00" font-size="6.4" text-anchor="middle" dominant-baseline="central" transform="translate(469.50 452.00) scale(0.91 1) translate(-469.50 -452.00)">15</text>
<text x="469.50" y="467.40" font-size="6.4" text-anchor="middle" dominant-baseline="central" transform="translate(469.50 467.40) scale(0.91 1) translate(-469.50 -467.40)">10</text>
<text x="469.50" y="482.60" font-size="6.4" text-anchor="middle" dominant-baseline="central" transform="translate(469.50 482.60) scale(0.91 1) translate(-469.50 -482.60)">5</text>
<text x="469.50" y="498.00" font-size="6.4" text-anchor="middle" dominant-baseline="central" transform="translate(469.50 498.00) scale(0.91 1) translate(-469.50 -498.00)">0</text>
<line x1="486.25" y1="465.10" x2="486.25" y2="472.10" stroke="#555" stroke-width="0.8"/>
<line x1="486.25" y1="484.70" x2="486.25" y2="490.70" stroke="#555" stroke-width="0.8"/>
<rect x="480.30" y="472.10" width="11.90" height="12.60" fill="#8a8a8a" stroke="#555" stroke-width="0.8"/>
<line x1="480.30" y1="480.20" x2="492.20" y2="480.20" stroke="#222" stroke-width="1.1"/>
<line x1="506.80" y1="436.30" x2="506.80" y2="440.20" stroke="#777" stroke-width="0.8"/>
<line x1="506.80" y1="460.10" x2="506.80" y2="468.10" stroke="#777" stroke-width="0.8"/>
<rect x="500.80" y="440.20" width="12.00" height="19.90" fill="#fff" stroke="#777" stroke-width="0.8"/>
<line x1="500.80" y1="451.20" x2="512.80" y2="451.20" stroke="#444" stroke-width="1.1"/>
<text x="0.50" y="520.50" font-size="14" text-anchor="start" dominant-baseline="central" font-weight="bold" fill="#000" stroke="#000" stroke-width="0.55">K</text>
<text x="6.00" y="560.80" font-size="4.85" text-anchor="middle" dominant-baseline="central" transform="rotate(-90 6.00 560.80)">Relative mRNA levels</text>
<text x="48.00" y="520.60" font-size="7.0" text-anchor="middle" dominant-baseline="central" font-style="italic" transform="translate(48.00 520.60) scale(0.86 1) translate(-48.00 -520.60)">Nos2</text>
<line x1="26.20" y1="528.00" x2="26.20" y2="592.50" stroke="#c4c4c4" stroke-width="0.7"/>
<line x1="26.20" y1="592.50" x2="66.00" y2="592.50" stroke="#c4c4c4" stroke-width="0.7"/>
<text x="22.90" y="529.30" font-size="6.9" text-anchor="end" dominant-baseline="central" transform="translate(22.90 529.30) scale(0.91 1) translate(-22.90 -529.30)">3</text>
<text x="22.90" y="540.00" font-size="6.9" text-anchor="end" dominant-baseline="central" transform="translate(22.90 540.00) scale(0.91 1) translate(-22.90 -540.00)">2.5</text>
<text x="22.90" y="550.50" font-size="6.9" text-anchor="end" dominant-baseline="central" transform="translate(22.90 550.50) scale(0.91 1) translate(-22.90 -550.50)">2</text>
<text x="22.90" y="561.30" font-size="6.9" text-anchor="end" dominant-baseline="central" transform="translate(22.90 561.30) scale(0.91 1) translate(-22.90 -561.30)">1.5</text>
<text x="22.90" y="571.30" font-size="6.9" text-anchor="end" dominant-baseline="central" transform="translate(22.90 571.30) scale(0.91 1) translate(-22.90 -571.30)">1</text>
<text x="22.90" y="582.00" font-size="6.9" text-anchor="end" dominant-baseline="central" transform="translate(22.90 582.00) scale(0.91 1) translate(-22.90 -582.00)">0.5</text>
<text x="22.90" y="592.50" font-size="6.9" text-anchor="end" dominant-baseline="central" transform="translate(22.90 592.50) scale(0.91 1) translate(-22.90 -592.50)">0</text>
<rect x="31.80" y="569.50" width="10.20" height="23.00" fill="#3c78e4" stroke="#2a5ab4" stroke-width="0.8"/>
<line x1="36.90" y1="569.50" x2="36.90" y2="566.30" stroke="#2a5ab4" stroke-width="0.8"/>
<line x1="34.70" y1="566.30" x2="39.10" y2="566.30" stroke="#2a5ab4" stroke-width="0.8"/>
<rect x="51.80" y="546.30" width="10.70" height="46.20" fill="#abc9dc" stroke="#7894aa" stroke-width="0.8"/>
<line x1="57.15" y1="546.30" x2="57.15" y2="535.00" stroke="#7894aa" stroke-width="0.8"/>
<line x1="54.95" y1="535.00" x2="59.35" y2="535.00" stroke="#7894aa" stroke-width="0.8"/>
<path d="M36.30,563.00 V529.30 H58.00 V533.00" stroke="#777" stroke-width="0.8" fill="none"/>
<text x="47.80" y="528.20" font-size="6.8" text-anchor="middle" dominant-baseline="central" font-weight="bold" letter-spacing="0.6">*</text>
<text x="111.30" y="520.60" font-size="7.0" text-anchor="middle" dominant-baseline="central" font-style="italic" transform="translate(111.30 520.60) scale(0.86 1) translate(-111.30 -520.60)">Il-12b</text>
<line x1="93.10" y1="528.00" x2="93.10" y2="592.50" stroke="#c4c4c4" stroke-width="0.7"/>
<line x1="93.10" y1="592.50" x2="134.00" y2="592.50" stroke="#c4c4c4" stroke-width="0.7"/>
<text x="89.80" y="530.00" font-size="6.9" text-anchor="end" dominant-baseline="central" transform="translate(89.80 530.00) scale(0.91 1) translate(-89.80 -530.00)">1.2</text>
<text x="89.80" y="540.50" font-size="6.9" text-anchor="end" dominant-baseline="central" transform="translate(89.80 540.50) scale(0.91 1) translate(-89.80 -540.50)">1</text>
<text x="89.80" y="550.80" font-size="6.9" text-anchor="end" dominant-baseline="central" transform="translate(89.80 550.80) scale(0.91 1) translate(-89.80 -550.80)">0.8</text>
<text x="89.80" y="561.30" font-size="6.9" text-anchor="end" dominant-baseline="central" transform="translate(89.80 561.30) scale(0.91 1) translate(-89.80 -561.30)">0.6</text>
<text x="89.80" y="571.50" font-size="6.9" text-anchor="end" dominant-baseline="central" transform="translate(89.80 571.50) scale(0.91 1) translate(-89.80 -571.50)">0.4</text>
<text x="89.80" y="582.00" font-size="6.9" text-anchor="end" dominant-baseline="central" transform="translate(89.80 582.00) scale(0.91 1) translate(-89.80 -582.00)">0.2</text>
<text x="89.80" y="592.50" font-size="6.9" text-anchor="end" dominant-baseline="central" transform="translate(89.80 592.50) scale(0.91 1) translate(-89.80 -592.50)">0</text>
<rect x="98.80" y="536.80" width="10.70" height="55.70" fill="#3c78e4" stroke="#2a5ab4" stroke-width="0.8"/>
<line x1="104.15" y1="536.80" x2="104.15" y2="530.00" stroke="#2a5ab4" stroke-width="0.8"/>
<line x1="101.95" y1="530.00" x2="106.35" y2="530.00" stroke="#2a5ab4" stroke-width="0.8"/>
<rect x="119.50" y="541.80" width="10.50" height="50.70" fill="#abc9dc" stroke="#7894aa" stroke-width="0.8"/>
<line x1="124.75" y1="541.80" x2="124.75" y2="533.80" stroke="#7894aa" stroke-width="0.8"/>
<line x1="122.55" y1="533.80" x2="126.95" y2="533.80" stroke="#7894aa" stroke-width="0.8"/>
<text x="180.50" y="521.10" font-size="7.0" text-anchor="middle" dominant-baseline="central" font-style="italic" transform="translate(180.50 521.10) scale(0.86 1) translate(-180.50 -521.10)">Cxcl9</text>
<line x1="159.60" y1="528.00" x2="159.60" y2="592.50" stroke="#c4c4c4" stroke-width="0.7"/>
<line x1="159.60" y1="592.50" x2="200.00" y2="592.50" stroke="#c4c4c4" stroke-width="0.7"/>
<text x="156.30" y="531.70" font-size="6.9" text-anchor="end" dominant-baseline="central" transform="translate(156.30 531.70) scale(0.91 1) translate(-156.30 -531.70)">4</text>
<text x="156.30" y="546.80" font-size="6.9" text-anchor="end" dominant-baseline="central" transform="translate(156.30 546.80) scale(0.91 1) translate(-156.30 -546.80)">3</text>
<text x="156.30" y="562.20" font-size="6.9" text-anchor="end" dominant-baseline="central" transform="translate(156.30 562.20) scale(0.91 1) translate(-156.30 -562.20)">2</text>
<text x="156.30" y="577.70" font-size="6.9" text-anchor="end" dominant-baseline="central" transform="translate(156.30 577.70) scale(0.91 1) translate(-156.30 -577.70)">1</text>
<text x="156.30" y="592.80" font-size="6.9" text-anchor="end" dominant-baseline="central" transform="translate(156.30 592.80) scale(0.91 1) translate(-156.30 -592.80)">0</text>
<rect x="164.80" y="563.40" width="10.30" height="29.10" fill="#3c78e4" stroke="#2a5ab4" stroke-width="0.8"/>
<line x1="169.95" y1="563.40" x2="169.95" y2="560.80" stroke="#2a5ab4" stroke-width="0.8"/>
<line x1="167.75" y1="560.80" x2="172.15" y2="560.80" stroke="#2a5ab4" stroke-width="0.8"/>
<rect x="185.20" y="545.10" width="10.30" height="47.40" fill="#abc9dc" stroke="#7894aa" stroke-width="0.8"/>
<line x1="190.35" y1="545.10" x2="190.35" y2="534.00" stroke="#7894aa" stroke-width="0.8"/>
<line x1="188.15" y1="534.00" x2="192.55" y2="534.00" stroke="#7894aa" stroke-width="0.8"/>
<path d="M169.50,556.10 V528.40 H191.00 V531.10" stroke="#777" stroke-width="0.8" fill="none"/>
<text x="180.80" y="527.20" font-size="6.8" text-anchor="middle" dominant-baseline="central" font-weight="bold" letter-spacing="0.6">*</text>
<text x="248.00" y="521.10" font-size="7.0" text-anchor="middle" dominant-baseline="central" font-style="italic" transform="translate(248.00 521.10) scale(0.86 1) translate(-248.00 -521.10)">Cxcl10</text>
<line x1="225.70" y1="530.00" x2="225.70" y2="592.30" stroke="#c4c4c4" stroke-width="0.7"/>
<line x1="225.70" y1="592.30" x2="267.00" y2="592.30" stroke="#c4c4c4" stroke-width="0.7"/>
<text x="222.40" y="538.30" font-size="6.9" text-anchor="end" dominant-baseline="central" transform="translate(222.40 538.30) scale(0.91 1) translate(-222.40 -538.30)">6</text>
<text x="222.40" y="556.30" font-size="6.9" text-anchor="end" dominant-baseline="central" transform="translate(222.40 556.30) scale(0.91 1) translate(-222.40 -556.30)">4</text>
<text x="222.40" y="573.80" font-size="6.9" text-anchor="end" dominant-baseline="central" transform="translate(222.40 573.80) scale(0.91 1) translate(-222.40 -573.80)">2</text>
<text x="222.40" y="592.00" font-size="6.9" text-anchor="end" dominant-baseline="central" transform="translate(222.40 592.00) scale(0.91 1) translate(-222.40 -592.00)">0</text>
<rect x="231.30" y="580.00" width="10.70" height="12.30" fill="#3c78e4" stroke="#2a5ab4" stroke-width="0.8"/>
<line x1="236.65" y1="580.00" x2="236.65" y2="578.00" stroke="#2a5ab4" stroke-width="0.8"/>
<line x1="234.45" y1="578.00" x2="238.85" y2="578.00" stroke="#2a5ab4" stroke-width="0.8"/>
<rect x="252.50" y="551.80" width="10.80" height="40.50" fill="#abc9dc" stroke="#7894aa" stroke-width="0.8"/>
<line x1="257.90" y1="551.80" x2="257.90" y2="537.50" stroke="#7894aa" stroke-width="0.8"/>
<line x1="255.70" y1="537.50" x2="260.10" y2="537.50" stroke="#7894aa" stroke-width="0.8"/>
<path d="M236.30,576.30 V530.80 H258.00 V534.50" stroke="#777" stroke-width="0.8" fill="none"/>
<text x="247.80" y="528.40" font-size="6.8" text-anchor="middle" dominant-baseline="central" font-weight="bold" letter-spacing="0.6">*</text>
<text x="313.00" y="521.10" font-size="7.0" text-anchor="middle" dominant-baseline="central" font-style="italic" transform="translate(313.00 521.10) scale(0.86 1) translate(-313.00 -521.10)">Il8</text>
<line x1="291.30" y1="528.00" x2="291.30" y2="592.50" stroke="#c4c4c4" stroke-width="0.7"/>
<line x1="291.30" y1="592.50" x2="332.00" y2="592.50" stroke="#c4c4c4" stroke-width="0.7"/>
<text x="288.00" y="529.30" font-size="6.9" text-anchor="end" dominant-baseline="central" transform="translate(288.00 529.30) scale(0.91 1) translate(-288.00 -529.30)">9</text>
<text x="288.00" y="550.50" font-size="6.9" text-anchor="end" dominant-baseline="central" transform="translate(288.00 550.50) scale(0.91 1) translate(-288.00 -550.50)">6</text>
<text x="288.00" y="571.30" font-size="6.9" text-anchor="end" dominant-baseline="central" transform="translate(288.00 571.30) scale(0.91 1) translate(-288.00 -571.30)">3</text>
<text x="288.00" y="592.50" font-size="6.9" text-anchor="end" dominant-baseline="central" transform="translate(288.00 592.50) scale(0.91 1) translate(-288.00 -592.50)">0</text>
<rect x="297.00" y="573.00" width="10.00" height="19.50" fill="#3c78e4" stroke="#2a5ab4" stroke-width="0.8"/>
<line x1="302.00" y1="573.00" x2="302.00" y2="570.00" stroke="#2a5ab4" stroke-width="0.8"/>
<line x1="299.80" y1="570.00" x2="304.20" y2="570.00" stroke="#2a5ab4" stroke-width="0.8"/>
<rect x="317.50" y="549.30" width="10.50" height="43.20" fill="#abc9dc" stroke="#7894aa" stroke-width="0.8"/>
<line x1="322.75" y1="549.30" x2="322.75" y2="536.30" stroke="#7894aa" stroke-width="0.8"/>
<line x1="320.55" y1="536.30" x2="324.95" y2="536.30" stroke="#7894aa" stroke-width="0.8"/>
<path d="M302.00,568.80 V529.50 H323.00 V533.30" stroke="#777" stroke-width="0.8" fill="none"/>
<text x="313.30" y="527.70" font-size="6.8" text-anchor="middle" dominant-baseline="central" font-weight="bold" letter-spacing="0.6">*</text>
<text x="377.50" y="521.10" font-size="7.0" text-anchor="middle" dominant-baseline="central" font-style="italic" transform="translate(377.50 521.10) scale(0.86 1) translate(-377.50 -521.10)">Tnfa</text>
<line x1="355.20" y1="528.00" x2="355.20" y2="592.50" stroke="#c4c4c4" stroke-width="0.7"/>
<line x1="355.20" y1="592.50" x2="398.00" y2="592.50" stroke="#c4c4c4" stroke-width="0.7"/>
<text x="351.90" y="538.10" font-size="6.9" text-anchor="end" dominant-baseline="central" transform="translate(351.90 538.10) scale(0.91 1) translate(-351.90 -538.10)">1.2</text>
<text x="351.90" y="556.40" font-size="6.9" text-anchor="end" dominant-baseline="central" transform="translate(351.90 556.40) scale(0.91 1) translate(-351.90 -556.40)">0.8</text>
<text x="351.90" y="574.20" font-size="6.9" text-anchor="end" dominant-baseline="central" transform="translate(351.90 574.20) scale(0.91 1) translate(-351.90 -574.20)">0.4</text>
<text x="351.90" y="592.50" font-size="6.9" text-anchor="end" dominant-baseline="central" transform="translate(351.90 592.50) scale(0.91 1) translate(-351.90 -592.50)">0</text>
<rect x="361.00" y="566.90" width="9.90" height="25.60" fill="#3c78e4" stroke="#2a5ab4" stroke-width="0.8"/>
<line x1="365.95" y1="566.90" x2="365.95" y2="564.00" stroke="#2a5ab4" stroke-width="0.8"/>
<line x1="363.75" y1="564.00" x2="368.15" y2="564.00" stroke="#2a5ab4" stroke-width="0.8"/>
<rect x="382.20" y="548.60" width="10.00" height="43.90" fill="#abc9dc" stroke="#7894aa" stroke-width="0.8"/>
<line x1="387.20" y1="548.60" x2="387.20" y2="540.00" stroke="#7894aa" stroke-width="0.8"/>
<line x1="385.00" y1="540.00" x2="389.40" y2="540.00" stroke="#7894aa" stroke-width="0.8"/>
<path d="M366.80,561.40 V534.20 H387.20 V536.80" stroke="#777" stroke-width="0.8" fill="none"/>
<text x="377.60" y="533.20" font-size="6.8" text-anchor="middle" dominant-baseline="central" font-weight="bold" letter-spacing="0.6">*</text>
<rect x="403.60" y="528.40" width="5.80" height="5.80" fill="#3c78e4" stroke="#2a5ab4" stroke-width="0.8"/>
<text x="412.30" y="531.30" font-size="6.93" font-style="italic" dominant-baseline="central" text-anchor="start" transform="translate(412.30 531.30) scale(0.87 1) translate(-412.30 -531.30)">Gadd45b<tspan font-size="4.99" dy="-2.77">+/+</tspan></text>
<rect x="403.60" y="540.20" width="5.80" height="5.80" fill="#abc9dc" stroke="#7894aa" stroke-width="0.8"/>
<text x="412.30" y="543.10" font-size="6.93" font-style="italic" dominant-baseline="central" text-anchor="start" transform="translate(412.30 543.10) scale(0.87 1) translate(-412.30 -543.10)">Gadd45b<tspan font-size="4.99" dy="-2.77">&#8722;/&#8722;</tspan></text>
<rect x="403.60" y="551.30" width="5.80" height="5.80" fill="#7a1088" stroke="#560a60" stroke-width="0.8"/>
<text x="412.30" y="554.20" font-size="6.93" font-style="italic" dominant-baseline="central" text-anchor="start" transform="translate(412.30 554.20) scale(0.87 1) translate(-412.30 -554.20)">Gadd45b<tspan font-size="4.99" dy="-2.77">+/+</tspan></text>
<rect x="403.60" y="563.10" width="5.80" height="5.80" fill="#dcd0ea" stroke="#9c8cb0" stroke-width="0.8"/>
<text x="412.30" y="566.00" font-size="6.93" font-style="italic" dominant-baseline="central" text-anchor="start" transform="translate(412.30 566.00) scale(0.87 1) translate(-412.30 -566.00)">Gadd45b<tspan font-size="4.99" dy="-2.77">&#8722;/&#8722;</tspan></text>
<line x1="449.10" y1="529.00" x2="449.10" y2="545.80" stroke="#888" stroke-width="0.9"/>
<line x1="449.10" y1="552.30" x2="449.10" y2="568.40" stroke="#888" stroke-width="0.9"/>
<text x="452.00" y="538.60" font-size="6.4" text-anchor="start" dominant-baseline="central" transform="translate(452.00 538.60) scale(0.91 1) translate(-452.00 -538.60)">Proinflammatory</text>
<text x="452.00" y="561.20" font-size="6.4" text-anchor="start" dominant-baseline="central" transform="translate(452.00 561.20) scale(0.91 1) translate(-452.00 -561.20)">Immune checkpoints</text>
<text x="0.50" y="611.50" font-size="14" text-anchor="start" dominant-baseline="central" font-weight="bold" fill="#000" stroke="#000" stroke-width="0.55">L</text>
<text x="5.80" y="651.70" font-size="4.85" text-anchor="middle" dominant-baseline="central" transform="rotate(-90 5.80 651.70)">Relative mRNA levels</text>
<text x="48.00" y="612.60" font-size="7.0" text-anchor="middle" dominant-baseline="central" font-style="italic" transform="translate(48.00 612.60) scale(0.86 1) translate(-48.00 -612.60)">Ido</text>
<line x1="26.30" y1="619.00" x2="26.30" y2="684.00" stroke="#c4c4c4" stroke-width="0.7"/>
<line x1="26.30" y1="684.00" x2="66.00" y2="684.00" stroke="#c4c4c4" stroke-width="0.7"/>
<text x="23.00" y="626.80" font-size="6.9" text-anchor="end" dominant-baseline="central" transform="translate(23.00 626.80) scale(0.91 1) translate(-23.00 -626.80)">1</text>
<text x="23.00" y="638.30" font-size="6.9" text-anchor="end" dominant-baseline="central" transform="translate(23.00 638.30) scale(0.91 1) translate(-23.00 -638.30)">0.8</text>
<text x="23.00" y="649.80" font-size="6.9" text-anchor="end" dominant-baseline="central" transform="translate(23.00 649.80) scale(0.91 1) translate(-23.00 -649.80)">0.6</text>
<text x="23.00" y="661.00" font-size="6.9" text-anchor="end" dominant-baseline="central" transform="translate(23.00 661.00) scale(0.91 1) translate(-23.00 -661.00)">0.4</text>
<text x="23.00" y="672.80" font-size="6.9" text-anchor="end" dominant-baseline="central" transform="translate(23.00 672.80) scale(0.91 1) translate(-23.00 -672.80)">0.2</text>
<text x="23.00" y="684.00" font-size="6.9" text-anchor="end" dominant-baseline="central" transform="translate(23.00 684.00) scale(0.91 1) translate(-23.00 -684.00)">0</text>
<rect x="32.00" y="648.10" width="10.00" height="35.90" fill="#7a1088" stroke="#560a60" stroke-width="0.8"/>
<line x1="37.00" y1="648.10" x2="37.00" y2="645.00" stroke="#560a60" stroke-width="0.8"/>
<line x1="34.80" y1="645.00" x2="39.20" y2="645.00" stroke="#560a60" stroke-width="0.8"/>
<rect x="52.00" y="633.00" width="10.50" height="51.00" fill="#dcd0ea" stroke="#9c8cb0" stroke-width="0.8"/>
<line x1="57.25" y1="633.00" x2="57.25" y2="627.00" stroke="#9c8cb0" stroke-width="0.8"/>
<line x1="55.05" y1="627.00" x2="59.45" y2="627.00" stroke="#9c8cb0" stroke-width="0.8"/>
<path d="M37.50,642.50 V620.00 H58.00 V623.80" stroke="#777" stroke-width="0.8" fill="none"/>
<text x="47.80" y="618.40" font-size="6.8" text-anchor="middle" dominant-baseline="central" font-weight="bold" letter-spacing="0.6">*</text>
<text x="110.00" y="612.60" font-size="7.0" text-anchor="middle" dominant-baseline="central" font-style="italic" transform="translate(110.00 612.60) scale(0.86 1) translate(-110.00 -612.60)">Ctla-4</text>
<line x1="93.00" y1="619.00" x2="93.00" y2="683.30" stroke="#c4c4c4" stroke-width="0.7"/>
<line x1="93.00" y1="683.30" x2="134.00" y2="683.30" stroke="#c4c4c4" stroke-width="0.7"/>
<text x="89.70" y="620.00" font-size="6.9" text-anchor="end" dominant-baseline="central" transform="translate(89.70 620.00) scale(0.91 1) translate(-89.70 -620.00)">1.4</text>
<text x="89.70" y="629.30" font-size="6.9" text-anchor="end" dominant-baseline="central" transform="translate(89.70 629.30) scale(0.91 1) translate(-89.70 -629.30)">1.2</text>
<text x="89.70" y="638.30" font-size="6.9" text-anchor="end" dominant-baseline="central" transform="translate(89.70 638.30) scale(0.91 1) translate(-89.70 -638.30)">1</text>
<text x="89.70" y="647.50" font-size="6.9" text-anchor="end" dominant-baseline="central" transform="translate(89.70 647.50) scale(0.91 1) translate(-89.70 -647.50)">0.8</text>
<text x="89.70" y="656.30" font-size="6.9" text-anchor="end" dominant-baseline="central" transform="translate(89.70 656.30) scale(0.91 1) translate(-89.70 -656.30)">0.6</text>
<text x="89.70" y="665.50" font-size="6.9" text-anchor="end" dominant-baseline="central" transform="translate(89.70 665.50) scale(0.91 1) translate(-89.70 -665.50)">0.4</text>
<text x="89.70" y="674.50" font-size="6.9" text-anchor="end" dominant-baseline="central" transform="translate(89.70 674.50) scale(0.91 1) translate(-89.70 -674.50)">0.2</text>
<text x="89.70" y="683.30" font-size="6.9" text-anchor="end" dominant-baseline="central" transform="translate(89.70 683.30) scale(0.91 1) translate(-89.70 -683.30)">0</text>
<rect x="99.30" y="655.80" width="10.00" height="27.50" fill="#7a1088" stroke="#560a60" stroke-width="0.8"/>
<line x1="104.30" y1="655.80" x2="104.30" y2="652.50" stroke="#560a60" stroke-width="0.8"/>
<line x1="102.10" y1="652.50" x2="106.50" y2="652.50" stroke="#560a60" stroke-width="0.8"/>
<rect x="119.50" y="637.00" width="10.50" height="46.30" fill="#dcd0ea" stroke="#9c8cb0" stroke-width="0.8"/>
<line x1="124.75" y1="637.00" x2="124.75" y2="629.50" stroke="#9c8cb0" stroke-width="0.8"/>
<line x1="122.55" y1="629.50" x2="126.95" y2="629.50" stroke="#9c8cb0" stroke-width="0.8"/>
<path d="M104.50,651.30 V620.00 H125.00 V628.80" stroke="#777" stroke-width="0.8" fill="none"/>
<text x="110.30" y="619.40" font-size="6.8" text-anchor="middle" dominant-baseline="central" font-weight="bold" letter-spacing="0.6">**</text>
<text x="181.30" y="611.90" font-size="7.0" text-anchor="middle" dominant-baseline="central" font-style="italic" transform="translate(181.30 611.90) scale(0.86 1) translate(-181.30 -611.90)">Pd-l1</text>
<line x1="159.00" y1="619.00" x2="159.00" y2="683.80" stroke="#c4c4c4" stroke-width="0.7"/>
<line x1="159.00" y1="683.80" x2="200.00" y2="683.80" stroke="#c4c4c4" stroke-width="0.7"/>
<text x="155.70" y="621.00" font-size="6.9" text-anchor="end" dominant-baseline="central" transform="translate(155.70 621.00) scale(0.91 1) translate(-155.70 -621.00)">1.2</text>
<text x="155.70" y="631.30" font-size="6.9" text-anchor="end" dominant-baseline="central" transform="translate(155.70 631.30) scale(0.91 1) translate(-155.70 -631.30)">1</text>
<text x="155.70" y="642.00" font-size="6.9" text-anchor="end" dominant-baseline="central" transform="translate(155.70 642.00) scale(0.91 1) translate(-155.70 -642.00)">0.8</text>
<text x="155.70" y="652.60" font-size="6.9" text-anchor="end" dominant-baseline="central" transform="translate(155.70 652.60) scale(0.91 1) translate(-155.70 -652.60)">0.6</text>
<text x="155.70" y="662.70" font-size="6.9" text-anchor="end" dominant-baseline="central" transform="translate(155.70 662.70) scale(0.91 1) translate(-155.70 -662.70)">0.4</text>
<text x="155.70" y="673.30" font-size="6.9" text-anchor="end" dominant-baseline="central" transform="translate(155.70 673.30) scale(0.91 1) translate(-155.70 -673.30)">0.2</text>
<text x="155.70" y="683.80" font-size="6.9" text-anchor="end" dominant-baseline="central" transform="translate(155.70 683.80) scale(0.91 1) translate(-155.70 -683.80)">0</text>
<rect x="165.20" y="655.40" width="9.80" height="28.40" fill="#7a1088" stroke="#560a60" stroke-width="0.8"/>
<line x1="170.10" y1="655.40" x2="170.10" y2="652.60" stroke="#560a60" stroke-width="0.8"/>
<line x1="167.90" y1="652.60" x2="172.30" y2="652.60" stroke="#560a60" stroke-width="0.8"/>
<rect x="186.30" y="633.30" width="10.00" height="50.50" fill="#dcd0ea" stroke="#9c8cb0" stroke-width="0.8"/>
<line x1="191.30" y1="633.30" x2="191.30" y2="625.10" stroke="#9c8cb0" stroke-width="0.8"/>
<line x1="189.10" y1="625.10" x2="193.50" y2="625.10" stroke="#9c8cb0" stroke-width="0.8"/>
<path d="M169.90,650.40 V619.90 H191.50 V622.30" stroke="#777" stroke-width="0.8" fill="none"/>
<text x="180.60" y="618.40" font-size="6.8" text-anchor="middle" dominant-baseline="central" font-weight="bold" letter-spacing="0.6">**</text>
<text x="247.50" y="611.40" font-size="7.0" text-anchor="middle" dominant-baseline="central" font-style="italic" transform="translate(247.50 611.40) scale(0.86 1) translate(-247.50 -611.40)">Pd-l2</text>
<line x1="226.00" y1="619.00" x2="226.00" y2="683.30" stroke="#c4c4c4" stroke-width="0.7"/>
<line x1="226.00" y1="683.30" x2="267.00" y2="683.30" stroke="#c4c4c4" stroke-width="0.7"/>
<text x="222.70" y="620.00" font-size="6.9" text-anchor="end" dominant-baseline="central" transform="translate(222.70 620.00) scale(0.91 1) translate(-222.70 -620.00)">0.9</text>
<text x="222.70" y="641.30" font-size="6.9" text-anchor="end" dominant-baseline="central" transform="translate(222.70 641.30) scale(0.91 1) translate(-222.70 -641.30)">0.6</text>
<text x="222.70" y="662.00" font-size="6.9" text-anchor="end" dominant-baseline="central" transform="translate(222.70 662.00) scale(0.91 1) translate(-222.70 -662.00)">0.3</text>
<text x="222.70" y="683.30" font-size="6.9" text-anchor="end" dominant-baseline="central" transform="translate(222.70 683.30) scale(0.91 1) translate(-222.70 -683.30)">0</text>
<rect x="231.80" y="642.00" width="10.20" height="41.30" fill="#7a1088" stroke="#560a60" stroke-width="0.8"/>
<line x1="236.90" y1="642.00" x2="236.90" y2="637.50" stroke="#560a60" stroke-width="0.8"/>
<line x1="234.70" y1="637.50" x2="239.10" y2="637.50" stroke="#560a60" stroke-width="0.8"/>
<rect x="252.50" y="631.30" width="10.50" height="52.00" fill="#dcd0ea" stroke="#9c8cb0" stroke-width="0.8"/>
<line x1="257.75" y1="631.30" x2="257.75" y2="624.30" stroke="#9c8cb0" stroke-width="0.8"/>
<line x1="255.55" y1="624.30" x2="259.95" y2="624.30" stroke="#9c8cb0" stroke-width="0.8"/>
<text x="313.80" y="611.90" font-size="7.0" text-anchor="middle" dominant-baseline="central" font-style="italic" transform="translate(313.80 611.90) scale(0.86 1) translate(-313.80 -611.90)">B7-h3</text>
<line x1="291.30" y1="619.00" x2="291.30" y2="683.80" stroke="#c4c4c4" stroke-width="0.7"/>
<line x1="291.30" y1="683.80" x2="332.00" y2="683.80" stroke="#c4c4c4" stroke-width="0.7"/>
<text x="288.00" y="620.00" font-size="6.9" text-anchor="end" dominant-baseline="central" transform="translate(288.00 620.00) scale(0.91 1) translate(-288.00 -620.00)">1.6</text>
<text x="288.00" y="636.30" font-size="6.9" text-anchor="end" dominant-baseline="central" transform="translate(288.00 636.30) scale(0.91 1) translate(-288.00 -636.30)">1.2</text>
<text x="288.00" y="652.50" font-size="6.9" text-anchor="end" dominant-baseline="central" transform="translate(288.00 652.50) scale(0.91 1) translate(-288.00 -652.50)">0.8</text>
<text x="288.00" y="668.80" font-size="6.9" text-anchor="end" dominant-baseline="central" transform="translate(288.00 668.80) scale(0.91 1) translate(-288.00 -668.80)">0.4</text>
<text x="288.00" y="683.80" font-size="6.9" text-anchor="end" dominant-baseline="central" transform="translate(288.00 683.80) scale(0.91 1) translate(-288.00 -683.80)">0</text>
<rect x="297.50" y="655.00" width="10.00" height="28.80" fill="#7a1088" stroke="#560a60" stroke-width="0.8"/>
<line x1="302.50" y1="655.00" x2="302.50" y2="650.80" stroke="#560a60" stroke-width="0.8"/>
<line x1="300.30" y1="650.80" x2="304.70" y2="650.80" stroke="#560a60" stroke-width="0.8"/>
<rect x="318.30" y="631.30" width="10.50" height="52.50" fill="#dcd0ea" stroke="#9c8cb0" stroke-width="0.8"/>
<line x1="323.55" y1="631.30" x2="323.55" y2="623.30" stroke="#9c8cb0" stroke-width="0.8"/>
<line x1="321.35" y1="623.30" x2="325.75" y2="623.30" stroke="#9c8cb0" stroke-width="0.8"/>
<path d="M302.50,650.00 V617.00 H323.00 V620.00" stroke="#777" stroke-width="0.8" fill="none"/>
<text x="313.30" y="615.70" font-size="6.8" text-anchor="middle" dominant-baseline="central" font-weight="bold" letter-spacing="0.6">*</text>
</svg></body></html>
